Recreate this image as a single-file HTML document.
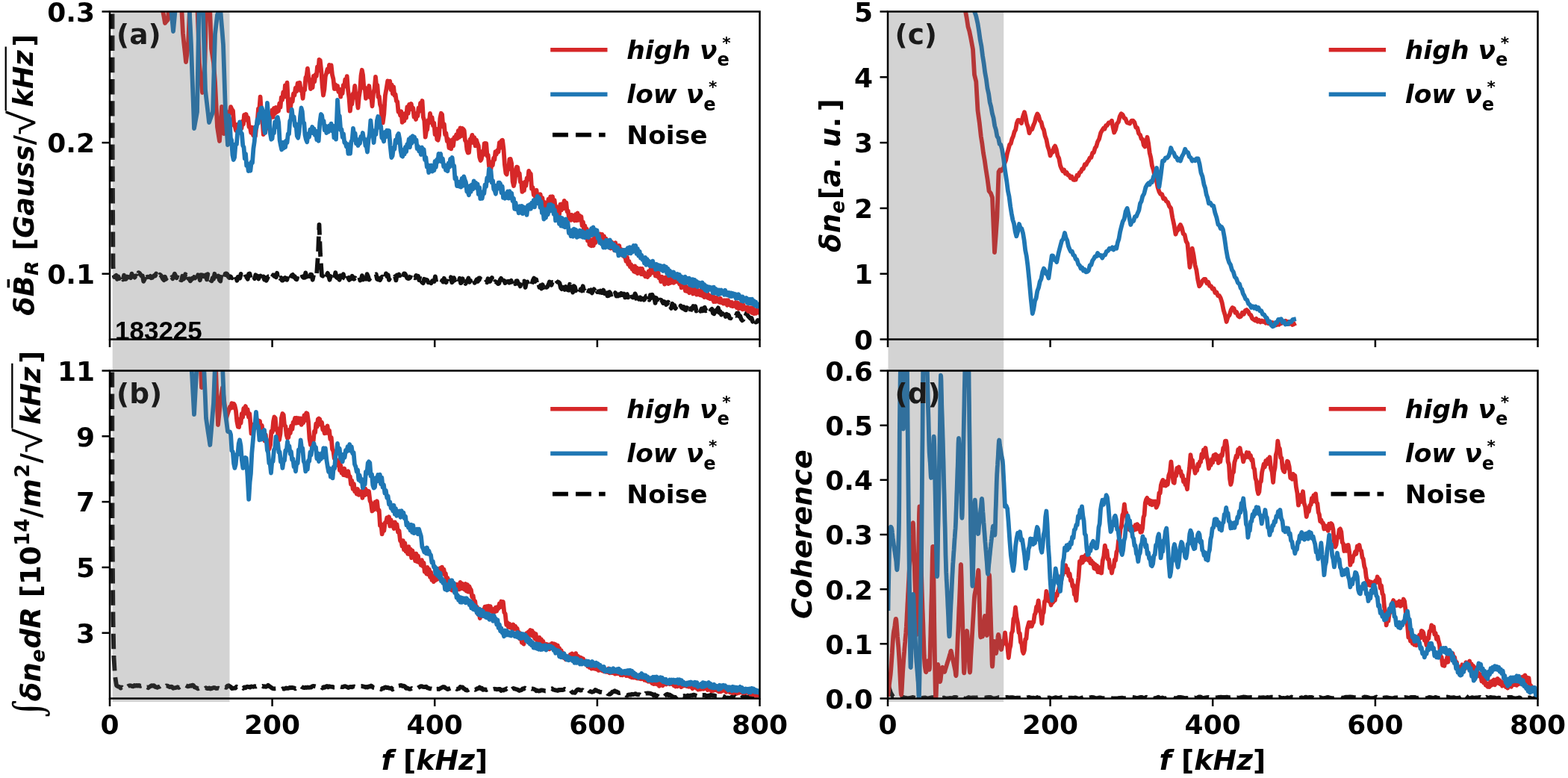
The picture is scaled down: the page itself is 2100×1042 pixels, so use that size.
<!DOCTYPE html>
<html><head><meta charset="utf-8"><title>Figure</title>
<style>html,body{margin:0;padding:0;background:#fff;} svg{display:block;}</style>
</head><body>
<svg width="2100" height="1042" viewBox="0 0 2100 1042">
<rect width="2100" height="1042" fill="#fff"/>
<defs><clipPath id="ca"><rect x="147" y="15.5" width="870.5" height="439.0"/></clipPath><clipPath id="cb"><rect x="147" y="496.5" width="870.5" height="439.0"/></clipPath><clipPath id="cc"><rect x="1189" y="15.5" width="870.5" height="439.0"/></clipPath><clipPath id="cd"><rect x="1189" y="496.5" width="870.5" height="439.0"/></clipPath></defs>
<path clip-path="url(#ca)" d="M150.5 -40.0 L150.7 200.0 L151.5 357.0 L153.0 371.0 L154.3 369.8 L155.6 368.8 L156.9 373.9 L158.2 370.2 L159.5 373.1 L160.8 369.8 L162.1 368.8 L163.4 371.8 L164.8 374.4 L166.1 368.7 L167.4 373.9 L168.7 373.8 L170.0 371.7 L171.3 371.7 L172.6 364.3 L173.9 369.7 L175.2 372.1 L176.5 366.6 L177.8 370.3 L179.1 370.4 L180.4 371.6 L181.7 369.4 L183.0 369.5 L184.3 372.2 L185.6 365.2 L186.9 365.8 L188.2 367.8 L189.6 369.6 L190.9 369.5 L192.2 376.8 L193.5 374.4 L194.8 367.1 L196.1 371.5 L197.4 370.7 L198.7 371.0 L200.0 371.0 L201.3 369.9 L202.6 372.2 L203.9 371.9 L205.2 370.3 L206.5 368.9 L207.8 369.5 L209.1 366.5 L210.4 369.8 L211.7 371.7 L213.0 369.9 L214.3 367.9 L215.7 369.0 L217.0 371.3 L218.3 373.8 L219.6 375.1 L220.9 370.7 L222.2 373.9 L223.5 372.4 L224.8 371.2 L226.1 371.0 L227.4 372.1 L228.7 373.8 L230.0 371.2 L231.3 373.3 L232.6 369.9 L233.9 366.7 L235.2 369.4 L236.5 372.3 L237.8 368.2 L239.1 371.6 L240.4 371.2 L241.7 374.9 L243.0 375.3 L244.3 369.7 L245.7 373.7 L247.0 372.6 L248.3 367.3 L249.6 368.5 L250.9 365.4 L252.2 373.0 L253.5 373.7 L254.8 376.3 L256.1 374.8 L257.4 372.7 L258.7 373.0 L260.0 371.0 L261.3 372.4 L262.6 368.5 L263.9 373.1 L265.2 368.3 L266.5 369.7 L267.8 375.2 L269.1 368.2 L270.4 368.4 L271.7 368.7 L273.0 376.2 L274.3 370.2 L275.7 368.3 L277.0 374.4 L278.3 367.1 L279.6 373.9 L280.9 373.3 L282.2 375.5 L283.5 376.3 L284.8 372.1 L286.1 373.5 L287.4 366.8 L288.7 374.5 L290.0 373.2 L291.3 375.1 L292.6 369.5 L293.9 375.1 L295.2 376.5 L296.5 367.0 L297.8 367.7 L299.1 369.6 L300.4 372.0 L301.7 366.8 L303.0 366.3 L304.3 367.1 L305.7 370.6 L307.0 372.0 L308.3 370.2 L309.6 371.7 L310.9 372.3 L312.2 371.0 L313.5 370.3 L314.8 366.9 L316.1 371.0 L317.4 375.7 L318.7 370.8 L320.0 371.0 L321.3 372.5 L322.6 366.9 L323.9 372.0 L325.2 373.0 L326.6 372.5 L327.9 370.9 L329.2 370.3 L330.5 371.6 L331.8 373.8 L333.1 367.0 L334.4 366.4 L335.7 372.5 L337.0 374.6 L338.4 371.3 L339.7 370.7 L341.0 373.1 L342.3 368.3 L343.6 369.3 L344.9 369.5 L346.2 373.4 L347.5 370.8 L348.9 369.5 L350.2 373.3 L351.5 375.8 L352.8 370.4 L354.1 374.5 L355.4 371.9 L356.7 375.7 L358.0 373.1 L359.3 370.3 L360.7 370.1 L362.0 368.6 L363.3 372.6 L364.6 371.0 L365.9 368.4 L367.2 369.8 L368.5 368.4 L369.8 371.3 L371.1 365.7 L372.5 374.8 L373.8 371.7 L375.1 373.0 L376.4 372.0 L377.7 375.6 L379.0 375.5 L380.3 373.0 L381.6 372.1 L383.0 374.2 L384.3 374.7 L385.6 369.8 L386.9 372.6 L388.2 374.9 L389.5 370.8 L390.8 368.7 L392.1 367.9 L393.4 371.0 L394.8 370.2 L396.1 373.8 L397.4 374.3 L398.7 369.3 L400.0 370.0 L401.3 367.8 L402.7 368.1 L404.0 366.9 L405.3 370.8 L406.7 371.9 L408.0 371.8 L409.3 365.4 L410.7 370.7 L412.0 366.9 L413.3 369.8 L414.7 373.2 L416.0 367.6 L417.3 367.9 L418.7 374.7 L420.0 368.4 L421.3 366.6 L422.7 367.7 L424.0 369.0 L426.0 340.0 L427.5 301.0 L429.0 340.0 L431.0 369.0 L432.3 369.7 L433.6 363.1 L434.9 366.0 L436.2 367.3 L437.5 368.1 L438.9 365.9 L440.2 370.1 L441.5 374.7 L442.8 370.0 L444.1 371.7 L445.4 368.2 L446.7 369.7 L448.0 372.0 L449.3 365.1 L450.6 371.3 L451.9 372.4 L453.3 366.6 L454.6 374.9 L455.9 369.1 L457.2 371.4 L458.5 370.6 L459.8 367.3 L461.1 372.5 L462.4 373.3 L463.7 374.3 L465.0 368.6 L466.4 372.5 L467.7 374.9 L469.0 373.8 L470.3 373.5 L471.6 369.8 L472.9 371.4 L474.2 373.8 L475.6 372.2 L476.9 374.3 L478.2 373.2 L479.6 372.7 L480.9 370.5 L482.3 375.5 L483.6 374.8 L484.9 369.1 L486.3 374.5 L487.6 372.2 L488.9 366.8 L490.3 373.8 L491.6 367.2 L493.0 370.2 L494.3 374.6 L495.6 373.0 L497.0 371.3 L498.3 371.3 L499.7 369.8 L501.0 368.9 L502.3 368.0 L503.7 367.3 L505.0 373.7 L506.3 374.4 L507.7 372.7 L509.0 375.1 L510.4 372.0 L511.7 370.7 L513.0 370.7 L514.4 374.5 L515.7 372.9 L517.0 366.4 L518.4 370.1 L519.7 368.4 L521.0 374.9 L522.4 372.1 L523.7 371.1 L525.0 370.1 L526.4 370.3 L527.7 372.7 L529.0 370.3 L530.4 375.4 L531.7 368.5 L533.0 369.5 L534.4 367.6 L535.7 369.0 L537.0 365.8 L538.4 371.2 L539.7 370.9 L541.1 366.4 L542.4 366.7 L543.8 369.0 L545.1 372.2 L546.5 373.1 L547.8 372.8 L549.2 371.8 L550.5 368.1 L551.9 370.4 L553.2 368.6 L554.6 371.7 L555.9 372.2 L557.3 368.9 L558.6 371.4 L560.0 369.8 L561.3 375.0 L562.7 368.6 L564.0 376.3 L565.4 378.2 L566.7 379.2 L568.1 373.7 L569.4 374.4 L570.8 374.6 L572.1 375.2 L573.5 378.3 L574.8 376.0 L576.2 373.3 L577.5 379.3 L578.9 376.3 L580.2 376.7 L581.6 377.0 L582.9 370.4 L584.3 377.7 L585.6 377.2 L587.0 377.0 L588.3 377.3 L589.6 379.1 L590.9 378.9 L592.2 375.6 L593.5 377.5 L594.8 372.7 L596.1 376.9 L597.4 378.2 L598.7 376.4 L600.0 376.6 L601.3 378.8 L602.6 377.6 L603.9 371.3 L605.2 378.2 L606.5 377.1 L607.8 372.1 L609.2 375.3 L610.5 374.3 L611.8 372.2 L613.1 375.0 L614.4 377.6 L615.7 372.7 L617.0 379.1 L618.3 378.4 L619.6 373.3 L620.9 379.8 L622.2 377.5 L623.5 380.0 L624.8 376.7 L626.1 375.8 L627.4 372.5 L628.7 377.9 L630.0 375.7 L631.4 380.3 L632.9 379.4 L634.3 375.5 L635.7 378.8 L637.1 377.1 L638.6 374.2 L640.0 377.0 L641.4 372.5 L642.7 372.5 L644.1 374.2 L645.4 374.7 L646.8 378.0 L648.1 379.9 L649.5 378.5 L650.8 377.4 L652.2 378.2 L653.5 373.3 L654.9 374.3 L656.2 377.0 L657.6 373.9 L658.9 372.0 L660.3 379.7 L661.6 379.5 L663.0 377.0 L664.4 377.6 L665.7 378.5 L667.1 380.1 L668.4 379.5 L669.8 374.7 L671.1 372.8 L672.5 375.3 L673.8 381.1 L675.2 375.7 L676.5 379.1 L677.9 377.3 L679.2 377.6 L680.6 376.8 L681.9 378.6 L683.3 376.7 L684.6 375.7 L686.0 381.0 L687.4 376.8 L688.7 377.3 L690.1 380.2 L691.4 376.4 L692.8 376.2 L694.1 380.2 L695.5 380.1 L696.8 383.4 L698.2 377.9 L699.5 381.0 L700.9 380.2 L702.2 376.5 L703.6 385.0 L704.9 378.6 L706.3 377.6 L707.6 381.5 L709.0 382.0 L710.6 379.3 L712.1 381.1 L713.7 375.6 L715.2 372.5 L716.8 377.0 L718.2 374.3 L719.6 381.5 L721.0 378.9 L722.4 384.8 L723.8 382.4 L725.2 386.5 L726.6 381.3 L728.0 385.0 L729.3 380.7 L730.6 380.0 L731.9 384.9 L733.2 383.9 L734.6 381.2 L735.9 377.5 L737.2 380.6 L738.5 381.7 L739.8 378.0 L741.2 378.0 L742.6 373.2 L743.9 374.5 L745.3 376.3 L746.7 377.9 L748.1 377.8 L749.5 379.2 L750.9 385.4 L752.2 387.1 L753.6 380.0 L755.0 385.0 L756.4 387.9 L757.7 384.0 L759.1 387.2 L760.4 388.4 L761.8 388.7 L763.1 380.8 L764.5 384.5 L765.8 388.4 L767.2 391.6 L768.5 383.1 L769.9 384.2 L771.2 389.4 L772.6 383.9 L773.9 387.3 L775.3 386.7 L776.6 388.4 L778.0 387.0 L779.4 389.5 L780.7 383.3 L782.1 389.0 L783.4 389.3 L784.8 391.2 L786.1 389.5 L787.5 393.2 L788.9 389.0 L790.2 390.1 L791.6 388.3 L792.9 392.4 L794.3 389.2 L795.6 387.3 L797.0 390.0 L798.4 386.0 L799.9 391.1 L801.3 390.2 L802.7 391.4 L804.2 389.5 L805.6 392.0 L806.9 392.1 L808.2 388.6 L809.6 393.0 L810.9 386.8 L812.2 392.0 L813.5 396.3 L814.8 396.1 L816.2 391.1 L817.5 392.6 L818.8 398.2 L820.1 395.4 L821.4 396.1 L822.7 395.6 L824.1 392.1 L825.4 396.5 L826.7 394.3 L828.0 396.4 L829.3 394.4 L830.7 395.5 L832.0 392.8 L833.3 395.6 L834.6 400.7 L835.9 393.5 L837.2 398.4 L838.6 394.7 L839.9 394.1 L841.2 398.3 L842.5 394.3 L843.8 392.6 L845.2 393.3 L846.5 397.7 L847.8 398.5 L849.2 398.2 L850.5 393.4 L851.9 396.2 L853.2 404.3 L854.6 398.3 L855.9 400.8 L857.3 398.3 L858.6 401.2 L860.0 400.0 L861.4 400.0 L862.7 401.6 L864.1 399.3 L865.5 396.3 L866.8 396.1 L868.2 395.1 L869.6 401.7 L870.9 395.2 L872.3 399.0 L873.6 394.7 L874.9 403.6 L876.2 398.0 L877.6 405.9 L878.9 399.2 L880.2 401.7 L881.5 398.0 L882.8 403.3 L884.1 401.5 L885.4 401.8 L886.8 403.2 L888.1 406.1 L889.4 404.0 L890.7 404.4 L892.1 408.0 L893.5 407.0 L894.9 404.5 L896.3 411.8 L897.7 410.4 L899.0 412.9 L900.4 406.8 L901.8 409.1 L903.2 409.0 L904.6 413.2 L906.0 410.6 L907.4 409.3 L908.8 411.9 L910.2 413.4 L911.6 409.4 L913.0 412.1 L914.4 413.0 L915.8 411.1 L917.2 414.7 L918.6 415.2 L920.0 412.1 L921.4 413.6 L922.8 413.9 L924.2 419.3 L925.6 412.9 L927.0 413.5 L928.4 410.1 L929.8 410.9 L931.2 410.2 L932.6 416.5 L934.0 414.1 L935.4 415.4 L936.8 413.0 L938.2 416.8 L939.6 413.5 L941.0 416.3 L942.4 412.8 L943.8 411.7 L945.1 416.3 L946.5 415.9 L947.9 417.2 L949.3 414.6 L950.7 417.9 L952.1 415.2 L953.5 413.9 L954.9 419.5 L956.3 420.3 L957.7 416.3 L959.1 422.5 L960.5 414.5 L961.9 412.4 L963.3 418.7 L964.7 417.3 L966.1 421.5 L967.5 419.8 L968.9 422.7 L970.3 417.2 L971.7 424.0 L973.1 420.7 L974.5 422.7 L975.8 422.1 L977.2 425.9 L978.6 426.2 L980.0 422.3 L981.4 421.0 L982.8 422.8 L984.2 422.5 L985.6 422.8 L987.0 419.6 L988.4 419.2 L989.8 423.5 L991.2 423.1 L992.6 427.4 L994.0 429.1 L995.4 428.1 L996.8 422.2 L998.2 424.0 L999.6 419.8 L1001.0 421.9 L1002.4 423.9 L1003.8 425.3 L1005.2 426.8 L1006.6 426.1 L1008.0 430.7 L1009.4 425.6 L1010.8 427.5 L1012.2 431.6 L1013.6 431.0 L1015.0 429.0 L1017.5 430.0" fill="none" stroke="#111111" stroke-width="5.8" stroke-linejoin="round" stroke-linecap="butt" stroke-dasharray="20.4 8.8"/>
<path clip-path="url(#ca)" d="M205.0 -40.0 L206.2 -35.2 L207.4 -30.4 L208.6 -25.6 L209.8 -20.8 L211.0 -16.0 L212.2 -11.2 L213.4 -6.4 L214.6 -1.6 L215.8 3.2 L217.0 8.0 L218.3 15.7 L219.7 23.3 L221.0 31.0 L222.3 29.3 L223.7 27.7 L225.0 26.0 L226.3 7.3 L227.7 -11.3 L229.0 -30.0 L230.2 -30.0 L231.4 -30.0 L232.6 -30.0 L233.8 -30.0 L235.0 -30.0 L236.2 -30.0 L237.4 -30.0 L238.6 -30.0 L239.8 -30.0 L241.0 -30.0 L242.3 -5.0 L243.7 20.0 L245.0 45.0 L246.3 57.7 L247.7 70.3 L249.0 83.0 L250.5 71.5 L252.0 60.0 L253.3 30.0 L254.7 0.0 L256.0 -30.0 L257.4 -30.0 L258.8 -30.0 L260.2 -30.0 L261.6 -30.0 L263.0 -30.0 L264.3 8.3 L265.7 46.7 L267.0 85.0 L268.3 98.0 L269.7 111.0 L271.0 124.0 L272.5 112.0 L274.0 100.0 L275.5 40.0 L277.0 -20.0 L278.5 -20.0 L280.0 -20.0 L281.5 22.5 L283.0 65.0 L284.5 74.5 L286.0 84.0 L288.0 110.0 L289.5 140.0 L291.0 170.0 L292.5 179.5 L294.0 189.0 L295.5 166.0 L297.0 143.0 L298.5 161.0 L300.0 179.0 L301.5 169.5 L303.0 160.0 L304.5 155.0 L306.0 150.0 L307.5 152.2 L309.1 143.1 L310.6 146.6 L312.0 148.4 L313.4 167.9 L314.8 169.8 L316.0 174.9 L317.3 166.9 L318.5 174.4 L319.8 170.1 L321.0 174.0 L322.2 165.4 L323.5 171.8 L324.7 162.3 L325.9 166.4 L327.1 153.9 L328.4 161.0 L329.6 153.0 L330.9 160.9 L332.2 157.5 L333.5 169.9 L334.8 169.8 L336.2 177.8 L337.7 170.6 L339.1 181.2 L340.6 175.8 L342.0 182.5 L343.3 169.9 L344.6 163.5 L346.0 145.7 L347.3 146.7 L348.6 129.7 L350.0 151.1 L351.4 159.5 L352.8 180.0 L354.1 173.9 L355.4 177.5 L356.7 163.5 L358.1 172.0 L359.4 158.7 L360.7 165.6 L362.0 153.4 L363.3 153.0 L364.5 147.5 L365.7 156.9 L366.9 144.8 L368.2 152.2 L369.4 143.8 L370.6 150.2 L371.8 144.5 L373.0 148.7 L374.3 138.3 L375.5 143.7 L376.8 130.4 L378.0 134.0 L379.3 123.4 L380.6 130.0 L381.9 114.4 L383.2 119.7 L384.5 110.7 L386.6 148.7 L387.9 139.6 L389.2 143.3 L390.4 132.6 L391.7 136.0 L393.0 125.5 L394.4 127.6 L395.8 117.7 L397.2 122.3 L398.6 111.5 L400.0 116.7 L401.4 110.7 L402.8 121.3 L404.2 120.4 L405.6 131.8 L406.9 119.0 L408.1 120.5 L409.4 103.7 L410.6 101.8 L411.9 91.7 L413.3 103.8 L414.6 107.1 L416.0 119.0 L417.3 110.6 L418.6 117.3 L419.9 102.0 L421.2 109.4 L422.5 100.0 L423.8 101.9 L425.0 89.3 L426.3 94.4 L427.5 79.8 L428.8 81.0 L430.2 94.2 L431.6 114.1 L433.0 127.6 L434.4 119.7 L435.8 102.5 L437.2 98.0 L438.5 92.8 L439.8 96.2 L441.0 86.8 L442.3 93.0 L443.6 87.4 L445.0 100.2 L446.4 105.8 L447.8 119.0 L449.2 113.3 L450.6 119.0 L452.0 115.0 L453.4 123.1 L454.8 119.6 L456.2 129.7 L457.4 121.8 L458.6 125.3 L459.8 113.8 L461.1 116.0 L462.3 106.3 L463.5 110.0 L464.7 102.2 L466.1 120.5 L467.5 130.8 L468.9 148.7 L470.2 135.9 L471.4 139.5 L472.7 125.6 L473.9 126.4 L475.2 115.0 L476.6 130.5 L478.1 132.6 L479.5 144.5 L480.8 129.8 L482.1 121.8 L483.5 101.3 L484.8 93.8 L486.1 100.6 L487.4 118.0 L488.7 117.3 L490.0 131.8 L491.4 121.8 L492.9 123.6 L494.3 115.0 L495.7 130.5 L497.1 127.6 L498.5 142.3 L500.0 124.9 L501.5 119.1 L503.0 103.0 L504.2 115.3 L505.4 114.1 L506.6 129.8 L507.8 129.2 L509.0 140.0 L510.2 143.3 L511.5 158.6 L512.7 164.5 L514.3 152.6 L515.9 127.8 L517.5 119.0 L519.2 108.4 L521.0 109.6 L522.2 108.7 L523.5 120.3 L524.7 113.5 L525.9 125.5 L527.1 116.3 L528.4 127.9 L529.6 126.5 L530.9 135.4 L532.2 136.1 L533.5 149.8 L534.8 149.7 L536.1 154.4 L537.4 149.2 L538.7 163.8 L540.0 160.0 L541.3 161.9 L542.7 152.0 L544.0 158.0 L545.4 143.1 L546.7 152.0 L548.0 140.0 L549.4 145.3 L550.7 139.0 L552.0 146.7 L553.2 144.5 L554.5 156.6 L555.7 151.9 L557.0 160.0 L558.2 153.6 L559.4 155.3 L560.6 144.3 L561.9 149.0 L563.1 137.9 L564.3 142.0 L565.5 135.0 L566.9 157.1 L568.3 161.3 L569.7 183.5 L571.0 175.1 L572.2 173.7 L573.5 161.0 L574.7 164.6 L576.0 151.8 L577.3 161.8 L578.6 157.3 L580.0 168.2 L581.3 164.7 L582.6 180.0 L584.0 172.5 L585.3 186.7 L586.6 187.7 L588.0 181.7 L589.4 158.7 L590.8 151.8 L592.1 153.4 L593.4 169.8 L594.8 166.1 L596.1 180.2 L597.4 178.3 L598.8 189.2 L600.1 186.1 L601.4 198.0 L602.8 193.0 L604.2 199.3 L605.6 187.1 L607.0 195.5 L608.4 184.0 L609.8 185.6 L611.1 180.5 L612.4 185.7 L613.8 175.0 L615.1 184.0 L616.4 171.4 L617.8 182.1 L619.1 172.0 L620.4 173.0 L621.7 174.9 L622.9 188.1 L624.2 189.8 L625.4 200.6 L626.7 204.6 L628.1 204.2 L629.6 186.4 L631.0 185.6 L632.4 180.9 L633.8 191.2 L635.2 184.1 L636.6 195.4 L638.0 187.3 L639.4 192.0 L640.8 195.1 L642.2 210.3 L643.6 215.0 L644.9 212.7 L646.2 202.6 L647.4 207.2 L648.7 192.1 L650.0 192.0 L651.2 192.2 L652.5 208.7 L653.7 207.7 L655.0 222.8 L656.2 223.6 L657.4 226.9 L658.6 216.8 L659.8 221.4 L661.1 211.6 L662.3 214.0 L663.5 203.1 L664.7 206.7 L666.1 201.4 L667.5 203.4 L668.9 190.8 L670.2 197.9 L671.6 188.4 L673.0 187.7 L674.5 199.8 L675.9 220.3 L677.4 232.0 L678.7 233.5 L679.9 222.0 L681.2 226.7 L682.4 213.1 L683.7 213.0 L685.1 218.6 L686.6 243.1 L688.0 249.0 L689.3 243.8 L690.7 229.0 L692.0 223.6 L693.2 224.0 L694.5 235.0 L695.7 232.1 L696.9 243.7 L698.1 244.0 L699.4 256.9 L700.6 255.0 L701.9 255.0 L703.1 243.7 L704.4 249.0 L705.7 238.3 L707.0 240.6 L708.2 228.9 L709.5 231.7 L710.8 232.7 L712.1 252.7 L713.5 251.2 L714.8 261.0 L716.0 258.1 L717.3 265.8 L718.5 254.6 L719.8 265.4 L721.0 261.0 L722.3 268.2 L723.7 260.3 L725.0 270.5 L726.4 265.1 L727.7 275.0 L729.0 270.7 L730.4 278.2 L731.7 278.0 L733.1 278.8 L734.5 266.7 L735.9 274.6 L737.2 263.3 L738.6 270.6 L740.0 263.3 L741.3 273.8 L742.6 268.1 L743.9 279.4 L745.2 276.8 L746.5 284.5 L747.8 279.5 L749.1 287.1 L750.4 273.7 L751.8 281.5 L753.1 273.1 L754.4 279.4 L755.7 268.8 L757.0 271.8 L758.3 271.4 L759.5 283.3 L760.8 282.5 L762.0 291.8 L763.3 293.0 L764.6 294.8 L765.8 287.8 L767.1 293.9 L768.4 289.1 L769.6 295.5 L770.9 287.3 L772.2 295.4 L773.5 285.5 L774.7 294.8 L776.0 288.7 L777.2 294.0 L778.4 290.1 L779.6 302.2 L780.9 297.4 L782.1 308.2 L783.3 302.4 L784.5 307.7 L785.8 306.7 L787.0 322.2 L788.3 315.0 L789.5 327.8 L790.8 328.8 L792.1 329.2 L793.4 321.1 L794.8 329.0 L796.1 318.4 L797.4 325.1 L798.8 315.3 L800.1 321.5 L801.4 314.0 L802.7 317.2 L803.9 313.4 L805.2 323.3 L806.4 314.0 L807.7 325.9 L809.0 316.4 L810.2 327.7 L811.5 319.6 L812.7 327.9 L814.0 326.7 L815.3 330.7 L816.5 325.2 L817.8 332.6 L819.1 324.0 L820.4 331.6 L821.6 327.3 L822.9 335.3 L824.2 325.2 L825.4 334.5 L826.7 331.0 L828.0 336.5 L829.3 329.0 L830.6 339.2 L832.0 334.0 L833.3 341.9 L834.6 337.7 L835.9 343.8 L837.2 343.6 L838.5 349.9 L839.9 344.5 L841.2 353.8 L842.5 350.1 L843.8 357.2 L845.1 354.1 L846.5 360.5 L847.8 360.5 L849.0 363.5 L850.3 356.4 L851.5 364.7 L852.7 358.7 L854.0 366.2 L855.2 360.1 L856.4 364.6 L857.7 359.7 L858.9 367.2 L860.1 359.9 L861.4 367.6 L862.6 364.7 L864.3 370.3 L866.0 367.6 L867.3 371.0 L868.7 363.4 L870.0 368.4 L871.4 360.7 L872.7 365.6 L874.1 359.2 L875.4 361.4 L876.6 359.3 L877.8 369.3 L879.1 361.1 L880.3 370.1 L881.5 365.2 L882.7 372.4 L883.9 370.4 L885.2 377.1 L886.4 370.6 L887.6 376.8 L888.8 374.5 L890.1 380.6 L891.3 371.5 L892.5 378.6 L893.7 371.8 L895.0 380.1 L896.2 372.5 L897.4 379.1 L898.6 370.9 L899.9 378.3 L901.1 370.1 L902.3 378.9 L903.5 369.3 L904.8 377.4 L906.0 373.7 L907.3 377.3 L908.7 374.5 L910.0 380.5 L911.3 376.5 L912.6 385.4 L914.0 381.3 L915.3 384.5 L916.6 381.4 L917.9 389.6 L919.2 383.8 L920.6 390.2 L921.9 385.7 L923.2 392.2 L924.5 389.0 L925.7 390.7 L927.0 384.7 L928.2 393.5 L929.4 386.2 L930.6 392.1 L931.9 385.6 L933.1 394.6 L934.3 388.4 L935.6 394.3 L936.8 390.6 L938.1 395.3 L939.3 388.4 L940.6 396.1 L941.9 390.4 L943.2 398.1 L944.5 390.0 L945.7 397.7 L947.0 391.8 L948.3 399.1 L949.5 395.2 L950.8 400.0 L952.1 398.3 L953.4 400.5 L954.7 395.2 L956.0 404.1 L957.2 398.6 L958.5 404.0 L959.8 398.8 L961.1 403.5 L962.4 400.2 L963.6 404.9 L964.9 399.8 L966.2 405.2 L967.5 404.4 L968.8 406.5 L970.0 402.3 L971.3 406.5 L972.6 402.3 L973.9 408.8 L975.1 402.2 L976.4 408.1 L977.7 404.4 L979.0 409.6 L980.2 404.9 L981.5 410.2 L982.8 407.5 L984.1 409.8 L985.4 405.0 L986.6 412.1 L987.9 405.5 L989.2 413.4 L990.5 407.0 L991.8 412.7 L993.1 406.9 L994.4 414.3 L995.6 408.4 L996.9 413.9 L998.2 412.0 L999.5 414.5 L1000.8 411.5 L1002.1 416.8 L1003.4 412.4 L1004.7 417.6 L1006.0 412.2 L1007.2 419.1 L1008.5 412.6 L1009.8 420.1 L1011.1 415.2 L1012.4 419.7 L1013.7 415.0 L1015.0 418.2 L1016.2 416.6 L1017.5 419.0" fill="none" stroke="#d62728" stroke-width="5.8" stroke-linejoin="round" stroke-linecap="square"/>
<path clip-path="url(#ca)" d="M222.0 -40.0 L223.4 -30.0 L224.8 -20.0 L226.2 -10.0 L227.6 0.0 L229.0 10.0 L230.5 26.0 L232.0 42.0 L233.5 26.0 L235.0 10.0 L236.2 -2.5 L237.5 -15.0 L238.8 -27.5 L240.0 -40.0 L241.2 -40.0 L242.4 -40.0 L243.7 -40.0 L244.9 -40.0 L246.1 -40.0 L247.3 -40.0 L248.6 -40.0 L249.8 -40.0 L251.0 -40.0 L252.2 -15.0 L253.5 10.0 L254.8 35.0 L256.0 60.0 L257.3 97.3 L258.7 134.7 L260.0 172.0 L261.3 164.7 L262.7 157.3 L264.0 150.0 L265.5 65.0 L267.0 -20.0 L268.3 -20.0 L269.7 -20.0 L271.0 -20.0 L272.3 26.7 L273.7 73.3 L275.0 120.0 L276.2 131.0 L277.5 142.0 L278.8 153.0 L280.0 164.0 L281.2 160.5 L282.5 157.0 L283.8 153.5 L285.0 150.0 L286.5 98.0 L288.0 46.0 L289.5 33.0 L291.0 20.0 L292.3 16.7 L293.7 13.3 L295.0 10.0 L296.3 26.7 L297.7 43.3 L299.0 60.0 L300.5 105.0 L302.0 150.0 L303.5 172.0 L305.0 194.0 L306.3 155.0 L307.6 160.4 L308.9 184.9 L310.1 187.7 L311.4 207.6 L312.7 214.0 L314.1 210.8 L315.5 193.1 L316.9 193.1 L318.2 176.2 L319.6 178.1 L321.0 163.5 L322.4 178.2 L323.9 178.8 L325.3 195.0 L326.5 197.1 L327.8 212.3 L329.0 206.0 L330.2 221.7 L331.5 218.8 L332.7 229.0 L334.0 220.1 L335.4 228.7 L336.7 216.6 L338.0 218.0 L339.4 199.0 L340.8 189.4 L342.2 170.0 L343.4 171.5 L344.6 160.0 L345.8 165.2 L347.1 152.3 L348.3 157.9 L349.5 144.8 L350.7 144.5 L352.1 149.4 L353.6 172.0 L355.0 178.0 L356.5 162.2 L358.0 138.0 L359.3 154.5 L360.6 157.4 L362.0 179.2 L363.3 186.7 L364.5 185.8 L365.7 175.3 L366.9 178.3 L368.2 163.5 L369.4 170.3 L370.6 158.9 L371.8 157.0 L373.2 164.0 L374.6 187.6 L376.0 195.0 L377.2 200.5 L378.4 191.0 L379.6 198.6 L380.9 190.5 L382.1 197.1 L383.3 188.4 L384.5 191.0 L385.8 179.1 L387.0 179.2 L388.3 161.9 L389.5 159.8 L390.8 146.6 L392.2 158.8 L393.6 156.2 L395.0 168.5 L396.4 166.0 L397.8 182.1 L399.2 184.6 L400.6 176.4 L402.1 155.8 L403.5 144.5 L404.8 149.3 L406.0 164.1 L407.3 164.8 L408.5 180.6 L409.8 186.7 L411.2 190.2 L412.6 179.1 L414.0 183.6 L415.4 173.5 L416.8 175.9 L418.2 170.0 L419.4 178.3 L420.6 172.7 L421.8 180.8 L423.1 175.6 L424.3 187.1 L425.5 184.0 L426.7 188.8 L428.3 164.4 L429.9 153.0 L431.1 154.5 L432.3 163.4 L433.5 162.0 L434.8 174.4 L436.0 168.5 L437.2 178.0 L438.5 173.1 L439.8 176.5 L441.0 168.5 L442.3 172.1 L443.6 165.6 L444.9 175.3 L446.2 168.7 L447.4 184.3 L448.7 177.1 L450.0 186.7 L452.0 134.0 L453.4 153.2 L454.8 155.5 L456.2 174.0 L457.5 173.3 L458.8 183.8 L460.0 179.2 L461.3 191.0 L462.6 191.0 L463.9 196.4 L465.2 192.9 L466.4 205.8 L467.7 200.2 L469.0 205.7 L470.3 189.9 L471.7 187.0 L473.0 172.0 L474.3 180.9 L475.6 178.6 L476.9 192.1 L478.2 187.3 L479.5 195.0 L480.8 186.9 L482.0 192.1 L483.3 182.8 L484.5 185.9 L485.8 178.0 L487.0 185.7 L488.3 186.0 L489.5 195.5 L490.8 195.8 L492.0 203.6 L493.5 187.1 L494.9 180.2 L496.4 161.3 L497.8 175.5 L499.2 174.7 L500.6 191.0 L502.0 176.0 L503.5 180.0 L504.9 161.7 L506.3 156.0 L507.6 157.9 L508.9 170.9 L510.1 169.1 L511.4 184.5 L512.7 185.6 L514.1 189.4 L515.5 176.9 L516.9 183.4 L518.2 174.7 L519.6 181.1 L521.0 175.0 L522.6 195.0 L524.3 211.0 L525.7 208.5 L527.0 198.0 L528.4 199.7 L529.7 187.5 L531.1 191.2 L532.4 181.2 L533.8 179.0 L535.2 186.2 L536.6 201.9 L538.0 208.8 L539.2 209.6 L540.4 200.3 L541.6 206.5 L542.9 197.0 L544.1 203.1 L545.3 193.2 L546.5 194.0 L547.7 186.4 L548.9 197.3 L550.1 184.2 L551.4 191.9 L552.6 182.2 L553.8 189.6 L555.0 183.5 L556.2 189.5 L557.5 187.2 L558.7 199.2 L560.0 195.9 L561.2 202.5 L562.5 199.6 L563.8 207.1 L565.0 197.4 L566.3 204.8 L567.6 200.0 L569.0 214.0 L570.4 211.0 L571.8 223.6 L573.0 220.9 L574.2 231.2 L575.4 221.8 L576.6 228.0 L577.8 221.5 L579.0 229.6 L580.2 227.8 L581.4 228.1 L582.6 216.0 L583.8 223.8 L585.1 213.7 L586.3 216.7 L587.5 205.9 L588.7 206.7 L590.1 206.1 L591.5 216.6 L592.9 212.6 L594.2 223.1 L595.6 221.0 L597.0 227.8 L598.2 221.8 L599.5 229.2 L600.7 218.3 L601.9 223.6 L603.1 213.0 L604.4 218.0 L605.6 211.0 L606.9 222.3 L608.2 222.1 L609.4 239.2 L610.7 237.7 L612.0 249.0 L613.3 245.4 L614.6 249.4 L615.9 243.5 L617.2 250.6 L618.6 238.8 L619.9 248.9 L621.2 236.5 L622.5 240.5 L623.9 244.1 L625.3 256.7 L626.7 257.4 L628.0 261.3 L629.3 249.0 L630.6 256.9 L632.0 247.5 L633.3 253.5 L634.6 242.3 L635.9 249.5 L637.2 244.7 L638.4 252.1 L639.6 246.6 L640.8 260.0 L642.1 251.1 L643.3 266.0 L644.5 257.0 L645.7 265.8 L647.0 257.7 L648.3 259.3 L649.6 247.4 L651.0 249.9 L652.3 238.2 L653.6 242.3 L654.9 226.4 L656.2 227.8 L657.5 228.7 L658.8 244.5 L660.0 241.9 L661.3 253.4 L662.6 255.3 L663.9 259.7 L665.2 248.4 L666.4 252.8 L667.7 244.6 L669.0 244.7 L670.2 246.2 L671.5 258.3 L672.7 249.7 L674.0 264.8 L675.2 263.7 L676.4 265.6 L677.6 259.2 L678.8 264.9 L680.1 256.3 L681.3 265.7 L682.5 256.2 L683.7 259.5 L685.1 258.7 L686.5 269.0 L687.9 265.6 L689.2 279.8 L690.6 271.7 L692.0 280.6 L693.3 278.5 L694.7 285.4 L696.0 276.2 L697.4 284.8 L698.7 275.9 L700.0 286.2 L701.4 277.3 L702.7 282.7 L704.1 278.2 L705.5 287.8 L707.0 275.2 L708.4 280.0 L709.7 274.0 L710.9 279.7 L712.2 271.7 L713.4 276.3 L714.7 268.1 L716.0 277.3 L717.2 267.1 L718.5 272.7 L719.7 262.8 L721.0 265.5 L722.2 265.3 L723.5 277.9 L724.7 270.1 L725.9 285.1 L727.1 279.5 L728.4 293.5 L729.6 290.8 L731.0 291.5 L732.4 279.9 L733.8 287.3 L735.2 274.2 L736.6 282.6 L738.0 274.0 L739.2 280.0 L740.4 275.2 L741.6 286.8 L742.9 281.0 L744.1 295.4 L745.3 287.2 L746.5 295.0 L747.8 293.4 L749.0 299.9 L750.2 291.0 L751.5 302.6 L752.8 292.1 L754.0 303.0 L755.2 295.8 L756.5 304.4 L757.8 293.4 L759.0 299.0 L760.4 298.0 L761.9 312.2 L763.3 309.8 L764.6 316.2 L766.0 308.5 L767.3 316.9 L768.6 306.6 L770.0 315.2 L771.3 307.8 L772.7 317.9 L774.0 314.0 L775.3 316.7 L776.6 308.6 L777.9 316.5 L779.2 309.5 L780.6 317.7 L781.9 311.0 L783.2 318.3 L784.5 314.0 L785.8 317.2 L787.0 310.0 L788.2 318.1 L789.5 309.3 L790.8 312.7 L792.0 306.3 L793.2 315.0 L794.5 304.4 L795.8 313.3 L797.0 307.7 L798.2 314.3 L799.5 308.5 L800.7 319.0 L801.9 315.6 L803.1 325.2 L804.4 322.1 L805.6 326.7 L806.9 324.6 L808.1 331.6 L809.4 324.2 L810.6 331.6 L811.9 321.7 L813.2 330.1 L814.4 322.2 L815.7 331.7 L816.9 321.4 L818.2 326.7 L819.5 325.7 L820.8 331.6 L822.0 327.2 L823.3 335.4 L824.6 330.1 L825.9 336.1 L827.2 331.6 L828.4 342.4 L829.7 335.0 L831.0 339.4 L832.4 335.2 L833.8 341.9 L835.2 334.9 L836.6 343.0 L838.0 334.7 L839.4 337.2 L840.7 332.2 L842.0 339.2 L843.4 331.1 L844.7 339.3 L846.0 331.4 L847.4 337.4 L848.7 329.0 L850.0 331.0 L851.3 329.0 L852.6 339.9 L853.9 333.2 L855.2 342.5 L856.6 336.7 L857.9 345.6 L859.2 341.7 L860.5 347.8 L861.7 345.3 L863.0 352.6 L864.2 344.9 L865.5 354.9 L866.7 347.0 L868.0 354.3 L869.2 349.7 L870.4 356.1 L871.7 351.0 L872.9 356.6 L874.2 349.6 L875.4 355.3 L876.7 353.8 L878.0 360.9 L879.2 353.9 L880.5 360.2 L881.8 355.1 L883.0 360.2 L884.3 355.7 L885.6 361.5 L886.9 356.8 L888.2 363.0 L889.4 356.2 L890.7 361.4 L892.0 357.4 L893.2 366.0 L894.5 359.9 L895.8 369.2 L897.1 362.6 L898.4 367.8 L899.6 364.4 L900.9 369.7 L902.2 364.5 L903.5 371.8 L904.7 367.1 L906.0 370.6 L907.3 366.9 L908.6 373.9 L909.9 367.9 L911.1 376.3 L912.4 370.4 L913.7 377.9 L915.0 371.6 L916.3 379.1 L917.5 370.7 L918.8 378.9 L920.1 372.5 L921.4 376.8 L922.7 372.6 L924.0 381.5 L925.2 374.0 L926.5 382.6 L927.8 374.2 L929.1 383.0 L930.4 374.9 L931.7 382.2 L932.9 376.8 L934.2 384.2 L935.5 378.4 L936.8 381.4 L938.1 379.3 L939.3 384.4 L940.6 378.5 L941.9 385.9 L943.2 381.1 L944.5 388.6 L945.7 383.0 L947.0 389.9 L948.3 384.2 L949.5 387.9 L950.8 384.6 L952.1 387.5 L953.4 385.4 L954.7 392.4 L956.0 384.6 L957.2 392.7 L958.5 386.8 L959.8 392.8 L961.1 388.2 L962.4 394.4 L963.6 388.5 L964.9 393.5 L966.2 388.5 L967.5 392.1 L968.8 390.6 L970.0 394.8 L971.3 388.8 L972.6 394.7 L973.9 391.7 L975.1 395.5 L976.4 391.9 L977.7 396.7 L979.0 392.4 L980.2 396.9 L981.5 393.0 L982.8 395.2 L984.1 393.8 L985.4 399.2 L986.6 394.5 L987.9 399.5 L989.2 394.3 L990.5 399.6 L991.8 397.1 L993.1 402.9 L994.4 397.4 L995.6 403.7 L996.9 399.2 L998.2 401.3 L999.5 399.1 L1000.8 405.8 L1002.1 400.6 L1003.4 406.5 L1004.7 400.8 L1006.0 406.4 L1007.2 400.7 L1008.5 407.3 L1009.8 403.1 L1011.1 408.9 L1012.4 404.5 L1013.7 410.4 L1015.0 407.5 L1016.2 410.5 L1017.5 408.0" fill="none" stroke="#1f77b4" stroke-width="5.8" stroke-linejoin="round" stroke-linecap="square"/>
<path clip-path="url(#cb)" d="M150.2 440.0 L150.5 700.0 L151.5 830.0 L152.5 880.0 L154.0 905.0 L156.0 918.0 L158.0 919.4 L160.0 920.0 L161.5 921.5 L163.1 920.4 L164.6 921.8 L166.2 921.1 L167.7 921.5 L169.2 921.4 L170.8 919.7 L172.3 918.6 L173.8 918.2 L175.4 918.3 L176.9 919.1 L178.5 919.3 L180.0 917.9 L181.5 918.6 L183.1 917.8 L184.6 918.7 L186.2 917.9 L187.7 918.9 L189.2 918.4 L190.8 917.9 L192.3 917.8 L193.8 918.6 L195.4 920.6 L196.9 920.4 L198.5 921.2 L200.0 920.0 L201.5 919.2 L203.0 918.1 L204.5 918.6 L206.1 918.1 L207.6 919.7 L209.1 920.3 L210.6 920.8 L212.1 919.8 L213.6 919.8 L215.2 918.5 L216.7 918.6 L218.2 918.8 L219.7 919.3 L221.2 919.5 L222.7 918.3 L224.2 918.5 L225.8 919.4 L227.3 920.1 L228.8 919.7 L230.3 919.9 L231.8 921.8 L233.3 921.3 L234.8 921.1 L236.4 920.7 L237.9 920.2 L239.4 921.0 L240.9 919.8 L242.4 920.0 L243.9 919.0 L245.5 918.4 L247.0 918.0 L248.5 917.8 L250.0 918.6 L251.5 919.3 L253.0 919.1 L254.5 918.3 L256.1 918.8 L257.6 917.6 L259.1 918.1 L260.6 920.3 L262.1 920.9 L263.6 921.5 L265.2 922.4 L266.7 921.7 L268.2 920.9 L269.7 920.9 L271.2 921.2 L272.7 921.3 L274.2 922.3 L275.8 921.2 L277.3 922.2 L278.8 922.2 L280.3 921.5 L281.8 922.5 L283.3 922.1 L284.8 921.5 L286.4 921.0 L287.9 921.2 L289.4 922.0 L290.9 921.8 L292.4 921.6 L293.9 922.1 L295.5 922.2 L297.0 921.5 L298.5 921.8 L300.0 920.0 L301.5 920.5 L303.0 920.8 L304.5 918.7 L306.1 918.1 L307.6 919.3 L309.1 919.9 L310.6 922.0 L312.1 921.9 L313.6 921.7 L315.2 921.5 L316.7 919.8 L318.2 920.4 L319.7 920.5 L321.2 920.6 L322.7 922.0 L324.2 920.7 L325.8 921.9 L327.3 920.4 L328.8 921.2 L330.3 919.9 L331.8 919.7 L333.3 920.1 L334.8 920.6 L336.4 919.4 L337.9 919.7 L339.4 919.8 L340.9 919.1 L342.4 919.6 L343.9 918.8 L345.5 919.6 L347.0 920.3 L348.5 919.6 L350.0 919.3 L351.5 918.8 L353.0 919.7 L354.5 919.2 L356.1 919.8 L357.6 919.1 L359.1 917.8 L360.6 919.0 L362.1 919.9 L363.6 921.1 L365.2 922.2 L366.7 922.3 L368.2 922.3 L369.7 922.2 L371.2 922.1 L372.7 921.5 L374.2 921.6 L375.8 922.9 L377.3 923.0 L378.8 922.2 L380.3 922.7 L381.8 922.1 L383.3 921.5 L384.8 921.8 L386.4 921.8 L387.9 920.8 L389.4 921.3 L390.9 920.8 L392.4 921.2 L393.9 921.3 L395.5 922.4 L397.0 921.6 L398.5 921.5 L400.0 920.5 L401.5 918.5 L403.0 919.0 L404.5 920.2 L406.1 920.9 L407.6 921.2 L409.1 920.7 L410.6 921.0 L412.1 920.5 L413.6 920.8 L415.2 920.7 L416.7 920.6 L418.2 919.2 L419.7 918.8 L421.2 919.0 L422.7 919.4 L424.2 918.4 L425.8 918.6 L427.3 918.7 L428.8 919.5 L430.3 920.1 L431.8 921.5 L433.3 920.2 L434.8 920.9 L436.4 919.4 L437.9 918.9 L439.4 920.3 L440.9 919.2 L442.4 919.7 L443.9 919.9 L445.5 919.9 L447.0 920.7 L448.5 920.7 L450.0 920.8 L451.5 920.4 L453.0 921.1 L454.5 919.7 L456.1 919.8 L457.6 920.2 L459.1 920.2 L460.6 919.4 L462.1 919.2 L463.6 919.5 L465.2 920.3 L466.7 921.1 L468.2 920.2 L469.7 919.9 L471.2 920.3 L472.7 919.7 L474.2 919.5 L475.8 920.0 L477.3 919.0 L478.8 919.8 L480.3 919.4 L481.8 919.4 L483.3 919.0 L484.8 919.0 L486.4 919.5 L487.9 919.6 L489.4 920.5 L490.9 919.8 L492.4 920.6 L493.9 919.3 L495.5 919.7 L497.0 918.4 L498.5 919.4 L500.0 921.0 L501.5 921.3 L503.0 921.1 L504.5 922.3 L506.0 921.7 L507.5 922.4 L509.1 922.6 L510.6 923.2 L512.1 922.0 L513.6 921.9 L515.1 920.7 L516.6 920.3 L518.1 921.1 L519.6 921.0 L521.1 921.7 L522.6 921.8 L524.2 921.5 L525.7 923.4 L527.2 922.4 L528.7 922.4 L530.2 922.5 L531.7 920.7 L533.2 918.7 L534.7 918.4 L536.2 918.0 L537.7 918.0 L539.2 919.0 L540.8 918.6 L542.3 919.3 L543.8 921.9 L545.3 921.5 L546.8 922.2 L548.3 922.9 L549.8 922.9 L551.3 921.9 L552.8 922.9 L554.3 922.4 L555.8 922.1 L557.4 922.3 L558.9 921.9 L560.4 920.9 L561.9 920.2 L563.4 919.1 L564.9 919.1 L566.4 919.9 L567.9 920.1 L569.4 920.0 L570.9 919.6 L572.5 921.5 L574.0 921.7 L575.5 922.4 L577.0 922.3 L578.5 922.7 L580.0 920.7 L581.5 922.6 L583.0 923.3 L584.6 922.8 L586.1 922.7 L587.6 923.0 L589.1 922.3 L590.6 921.5 L592.2 920.7 L593.7 920.0 L595.2 920.2 L596.7 921.5 L598.2 922.3 L599.7 923.2 L601.3 922.5 L602.8 921.8 L604.3 921.2 L605.8 920.8 L607.3 921.6 L608.9 920.9 L610.4 922.1 L611.9 923.1 L613.4 922.5 L614.9 922.1 L616.5 919.9 L618.0 920.4 L619.5 920.3 L621.0 922.1 L622.5 922.9 L624.0 924.3 L625.6 924.7 L627.1 924.0 L628.6 923.1 L630.1 922.6 L631.6 922.1 L633.2 923.4 L634.7 923.3 L636.2 923.9 L637.7 923.3 L639.2 922.1 L640.8 922.0 L642.3 920.5 L643.8 922.2 L645.3 921.6 L646.8 923.8 L648.3 923.5 L649.9 923.3 L651.4 924.0 L652.9 923.3 L654.4 923.3 L655.9 922.7 L657.5 923.9 L659.0 923.7 L660.5 923.1 L662.0 922.7 L663.5 922.8 L665.1 923.3 L666.6 923.1 L668.1 923.0 L669.6 923.0 L671.1 925.0 L672.6 924.1 L674.2 924.6 L675.7 923.5 L677.2 923.6 L678.7 922.2 L680.2 923.2 L681.8 923.1 L683.3 921.9 L684.8 923.8 L686.3 922.7 L687.8 922.0 L689.4 922.5 L690.9 923.0 L692.4 923.3 L693.9 924.1 L695.4 925.0 L696.9 924.5 L698.5 924.1 L700.0 922.4 L701.5 922.6 L703.0 921.5 L704.5 922.4 L706.0 922.1 L707.6 922.9 L709.1 922.1 L710.6 921.9 L712.1 922.6 L713.6 922.5 L715.1 923.0 L716.7 923.6 L718.2 925.3 L719.7 924.7 L721.2 925.5 L722.7 925.4 L724.3 924.5 L725.8 924.4 L727.3 924.6 L728.8 925.0 L730.3 925.5 L731.8 925.4 L733.4 924.9 L734.9 923.3 L736.4 923.4 L737.9 922.6 L739.4 922.2 L740.9 923.7 L742.5 923.9 L744.0 924.4 L745.5 924.6 L747.0 925.0 L748.5 923.8 L750.0 924.3 L751.6 923.8 L753.1 924.1 L754.6 923.9 L756.1 922.8 L757.6 923.5 L759.2 923.0 L760.7 922.4 L762.2 922.5 L763.7 923.7 L765.2 926.0 L766.7 927.6 L768.3 927.3 L769.8 927.9 L771.3 925.9 L772.8 924.1 L774.3 923.3 L775.8 923.8 L777.4 924.6 L778.9 924.3 L780.4 924.2 L781.9 925.4 L783.4 924.7 L784.9 924.0 L786.5 925.4 L788.0 924.5 L789.5 926.0 L791.0 926.2 L792.6 926.9 L794.1 926.4 L795.6 925.9 L797.2 924.0 L798.7 924.5 L800.2 925.6 L801.8 925.9 L803.3 927.0 L804.8 926.8 L806.4 927.1 L807.9 927.4 L809.4 926.3 L811.0 927.2 L812.5 927.3 L814.0 929.2 L815.6 929.8 L817.1 929.8 L818.6 928.6 L820.2 926.6 L821.7 926.3 L823.3 925.2 L824.8 926.5 L826.3 926.4 L827.9 927.7 L829.4 928.1 L830.9 927.8 L832.5 929.0 L834.0 928.7 L835.5 928.7 L837.1 929.7 L838.6 931.3 L840.1 931.5 L841.7 930.7 L843.2 930.4 L844.7 930.7 L846.3 929.7 L847.8 930.1 L849.3 929.7 L850.9 929.1 L852.4 930.0 L853.9 930.3 L855.5 930.1 L857.0 930.3 L858.5 931.3 L860.1 931.0 L861.6 929.3 L863.1 930.2 L864.7 928.6 L866.2 928.6 L867.7 928.3 L869.2 928.7 L870.8 928.7 L872.3 929.3 L873.8 929.8 L875.4 931.4 L876.9 930.4 L878.4 932.3 L880.0 931.7 L881.5 932.5 L883.0 933.6 L884.6 933.4 L886.1 932.9 L887.6 932.1 L889.2 933.0 L890.7 931.7 L892.2 930.3 L893.8 929.6 L895.3 931.2 L896.8 930.5 L898.4 931.6 L899.9 932.4 L901.4 933.4 L902.9 933.6 L904.5 934.0 L906.0 933.9 L907.5 932.6 L909.1 932.7 L910.6 930.8 L912.1 931.6 L913.7 931.9 L915.2 932.2 L916.7 931.8 L918.2 933.1 L919.8 932.2 L921.3 931.5 L922.8 932.4 L924.3 931.6 L925.9 931.3 L927.4 931.5 L928.9 930.6 L930.4 931.1 L932.0 931.6 L933.5 932.0 L935.0 931.0 L936.5 932.3 L938.1 930.9 L939.6 931.0 L941.1 931.1 L942.6 930.8 L944.1 930.9 L945.7 932.1 L947.2 932.0 L948.7 931.7 L950.2 931.9 L951.8 930.7 L953.3 931.1 L954.8 931.6 L956.3 931.3 L957.9 932.0 L959.4 932.5 L960.9 932.5 L962.4 932.2 L964.0 931.3 L965.5 931.0 L967.0 931.8 L968.5 932.5 L970.1 933.2 L971.6 934.3 L973.1 935.5 L974.6 934.5 L976.1 935.0 L977.7 934.5 L979.2 934.3 L980.7 933.0 L982.2 932.2 L983.8 931.2 L985.3 931.7 L986.8 933.7 L988.3 933.9 L989.9 935.0 L991.4 935.9 L992.9 935.0 L994.4 933.7 L996.0 933.2 L997.5 932.2 L999.0 934.3 L1000.5 934.3 L1002.1 933.7 L1003.6 935.0 L1005.2 934.5 L1006.7 934.8 L1008.2 935.0 L1009.8 934.3 L1011.3 934.5 L1012.9 934.7 L1014.4 933.9 L1016.0 933.9 L1017.5 935.0" fill="none" stroke="#111111" stroke-width="5.8" stroke-linejoin="round" stroke-linecap="butt" stroke-dasharray="20.4 8.8"/>
<path clip-path="url(#cb)" d="M264.0 440.0 L265.3 450.0 L266.7 460.0 L268.0 470.0 L270.0 519.0 L271.2 494.5 L272.5 470.0 L274.2 455.0 L276.0 440.0 L277.2 440.0 L278.4 440.0 L279.7 440.0 L280.9 440.0 L282.1 440.0 L283.3 440.0 L284.6 440.0 L285.8 440.0 L287.0 440.0 L288.5 480.0 L290.0 520.0 L292.0 569.0 L293.5 554.5 L295.0 540.0 L296.5 529.5 L298.0 519.0 L299.2 529.2 L300.5 539.5 L301.8 549.8 L303.0 560.0 L304.2 556.2 L305.4 552.5 L306.6 548.8 L307.8 545.0 L309.1 546.5 L310.4 540.2 L311.8 545.9 L313.1 540.8 L314.4 543.0 L315.9 549.8 L317.3 564.1 L318.8 571.7 L320.1 572.0 L321.3 561.1 L322.6 566.6 L323.8 553.8 L325.1 558.8 L326.3 547.0 L327.6 547.4 L328.9 544.1 L330.3 553.8 L331.6 548.4 L333.0 558.7 L334.3 554.0 L336.5 580.5 L337.8 572.0 L339.0 580.8 L340.3 568.1 L341.5 573.5 L342.8 565.1 L344.0 568.3 L345.3 562.8 L346.6 568.0 L348.0 564.0 L349.3 575.6 L350.7 569.8 L352.0 578.3 L353.3 578.0 L354.5 590.4 L355.8 582.4 L357.0 592.7 L358.3 591.4 L359.5 602.9 L360.8 600.4 L362.1 595.8 L363.4 577.7 L364.8 578.7 L366.1 564.7 L367.4 558.4 L368.7 560.1 L370.0 575.8 L371.4 574.0 L372.7 585.3 L374.0 589.3 L375.5 580.7 L376.9 559.9 L378.4 554.0 L379.7 555.6 L381.0 569.5 L382.4 571.0 L383.7 582.6 L385.0 587.0 L386.3 585.9 L387.5 575.6 L388.8 580.1 L390.1 570.3 L391.4 575.0 L392.6 565.5 L393.9 565.0 L395.1 559.9 L396.3 566.9 L397.6 559.8 L398.8 566.3 L400.0 560.2 L401.2 566.2 L402.5 560.4 L403.7 568.9 L404.9 562.8 L406.2 566.2 L407.5 556.2 L408.9 563.0 L410.2 553.1 L411.5 554.0 L413.0 564.5 L414.5 587.4 L416.0 596.0 L417.2 596.6 L418.4 585.9 L419.7 590.2 L420.9 577.6 L422.1 579.2 L423.3 567.4 L424.6 571.6 L425.8 561.5 L427.0 560.6 L428.3 561.6 L429.6 568.9 L431.0 565.6 L432.3 575.7 L433.6 576.0 L434.8 580.4 L436.1 572.8 L437.3 579.9 L438.5 570.4 L439.8 580.2 L441.0 576.4 L442.3 588.1 L443.7 586.0 L445.0 601.5 L446.4 604.0 L447.7 613.9 L448.9 610.0 L450.1 622.6 L451.4 616.2 L452.6 623.3 L453.8 617.5 L455.0 629.9 L456.3 623.3 L457.5 633.4 L458.7 629.3 L460.0 636.1 L461.2 627.5 L462.5 636.7 L463.7 632.1 L465.0 637.6 L466.2 631.1 L467.5 638.2 L468.8 638.2 L470.0 648.6 L471.3 643.8 L472.6 654.8 L473.9 648.0 L475.1 658.2 L476.4 658.0 L477.7 661.4 L479.0 655.0 L480.4 662.8 L481.7 658.8 L483.0 662.5 L484.2 657.9 L485.4 666.9 L486.7 656.6 L487.9 663.5 L489.1 654.3 L490.3 662.2 L491.6 657.1 L492.8 661.4 L494.0 658.0 L495.5 670.5 L496.9 673.6 L498.4 684.5 L499.7 679.3 L501.0 682.6 L502.4 672.4 L503.7 676.3 L505.0 671.3 L506.3 683.4 L507.7 683.4 L509.0 703.7 L510.4 702.0 L511.7 715.4 L513.0 706.3 L514.3 710.9 L515.7 699.8 L517.0 699.7 L518.3 693.4 L519.6 697.5 L521.0 692.2 L522.3 704.7 L523.7 696.4 L525.0 704.4 L526.3 702.1 L527.6 708.0 L528.9 699.3 L530.2 707.5 L531.5 702.2 L533.0 712.7 L534.5 710.9 L536.0 724.3 L537.3 723.8 L538.5 731.5 L539.8 724.1 L541.0 736.2 L542.3 727.3 L543.5 738.5 L544.8 735.3 L546.1 741.7 L547.3 732.2 L548.6 742.3 L549.8 735.7 L551.1 747.2 L552.3 737.4 L553.6 744.1 L554.9 741.5 L556.1 751.1 L557.4 741.5 L558.6 752.1 L559.9 744.5 L561.1 753.2 L562.4 750.8 L563.7 756.8 L564.9 750.2 L566.2 758.4 L567.5 753.7 L568.7 765.8 L570.0 761.8 L571.2 768.6 L572.4 759.9 L573.6 769.4 L574.8 762.7 L576.0 772.9 L577.2 766.7 L578.4 776.8 L579.6 771.0 L580.8 779.2 L582.0 774.1 L583.2 777.3 L584.5 770.7 L585.7 775.9 L587.0 767.1 L588.2 771.6 L589.5 761.0 L590.7 766.2 L592.0 759.6 L593.2 767.7 L594.4 762.5 L595.6 769.7 L596.8 768.0 L598.0 777.9 L599.3 774.0 L600.5 781.6 L601.7 777.0 L602.9 789.0 L604.1 784.4 L605.3 790.5 L606.5 784.6 L607.8 791.5 L609.0 783.6 L610.3 789.1 L611.5 782.6 L612.8 789.5 L614.0 784.0 L615.2 789.3 L616.4 779.8 L617.6 788.0 L618.8 781.6 L620.0 788.4 L621.2 783.9 L622.4 789.7 L623.6 782.0 L624.8 791.6 L626.0 783.2 L627.2 792.6 L628.4 785.4 L629.6 788.3 L630.9 790.1 L632.2 799.4 L633.6 797.7 L634.9 806.5 L636.2 805.2 L637.5 815.8 L638.8 812.9 L640.2 822.7 L641.5 819.6 L642.8 828.0 L644.1 820.0 L645.5 824.9 L646.8 817.0 L648.2 817.3 L649.5 812.6 L650.7 817.6 L651.9 812.2 L653.1 818.2 L654.3 811.6 L655.5 818.1 L656.7 812.1 L657.9 818.3 L659.1 815.5 L660.3 820.9 L661.5 817.1 L662.7 819.2 L663.9 813.6 L665.2 818.5 L666.4 812.9 L667.6 814.9 L668.9 808.4 L670.1 813.2 L671.3 805.5 L672.6 811.0 L673.8 806.0 L675.3 820.2 L676.7 822.2 L678.2 836.9 L679.5 833.8 L680.8 839.8 L682.2 835.4 L683.5 840.6 L684.8 837.7 L686.1 842.3 L687.4 836.5 L688.8 842.3 L690.1 838.7 L691.4 841.3 L692.7 841.8 L693.9 850.4 L695.2 846.9 L696.4 855.7 L697.7 851.9 L698.9 860.7 L700.2 861.1 L701.5 862.5 L702.7 852.8 L704.0 856.0 L705.2 848.3 L706.5 853.5 L707.7 846.3 L709.0 845.7 L710.2 844.1 L711.4 850.7 L712.7 844.8 L713.9 851.9 L715.1 847.8 L716.3 855.3 L717.6 849.1 L718.8 857.4 L720.0 854.5 L721.2 858.2 L722.4 853.9 L723.7 859.9 L724.9 856.2 L726.1 864.0 L727.3 858.8 L728.5 866.1 L729.7 862.4 L731.0 869.0 L732.2 862.8 L733.4 867.8 L734.6 863.6 L735.8 869.4 L737.1 863.1 L738.3 867.8 L739.5 861.8 L740.7 868.2 L742.0 862.4 L743.2 865.2 L744.4 863.4 L745.6 867.4 L746.8 864.5 L748.0 871.9 L749.2 868.3 L750.4 873.6 L751.6 871.1 L752.8 877.2 L754.0 874.7 L755.2 881.1 L756.4 879.5 L757.6 883.2 L758.8 879.5 L760.1 883.1 L761.3 879.6 L762.5 882.6 L763.8 876.7 L765.0 881.9 L766.2 875.4 L767.5 880.6 L768.7 876.6 L769.9 879.6 L771.2 875.1 L772.4 880.4 L773.6 878.5 L774.8 883.1 L776.1 880.1 L777.3 885.2 L778.5 881.0 L779.8 886.5 L781.0 882.3 L782.2 888.2 L783.4 885.2 L784.7 889.5 L785.9 885.7 L787.1 892.4 L788.3 888.9 L789.6 893.9 L790.8 892.0 L792.0 895.4 L793.2 890.6 L794.5 895.2 L795.7 892.0 L796.9 895.7 L798.1 892.0 L799.4 896.5 L800.6 893.7 L801.8 897.9 L803.0 893.3 L804.2 897.4 L805.5 893.4 L806.7 898.4 L807.9 894.7 L809.1 899.4 L810.4 896.3 L811.6 899.7 L812.8 898.0 L814.0 900.0 L815.2 895.5 L816.5 901.4 L817.7 897.3 L818.9 900.9 L820.1 898.0 L821.3 901.2 L822.6 897.0 L823.8 902.6 L825.0 900.0 L826.2 902.2 L827.5 898.9 L828.8 902.1 L830.0 898.8 L831.2 904.1 L832.5 900.3 L833.8 904.3 L835.0 901.1 L836.2 903.6 L837.5 901.1 L838.8 905.1 L840.0 903.0 L841.2 905.0 L842.5 902.1 L843.8 906.3 L845.0 903.4 L846.2 907.3 L847.5 904.1 L848.8 907.6 L850.0 906.0 L851.2 907.6 L852.4 905.1 L853.6 908.6 L854.8 905.0 L856.0 908.7 L857.2 905.4 L858.4 909.4 L859.6 906.4 L860.8 909.1 L862.0 908.0 L863.2 910.7 L864.5 906.8 L865.8 911.5 L867.0 907.3 L868.2 912.7 L869.5 908.3 L870.8 912.9 L872.0 912.0 L873.2 914.9 L874.4 910.3 L875.6 916.1 L876.8 912.2 L878.0 915.8 L879.2 911.9 L880.4 916.5 L881.6 912.6 L882.8 918.8 L884.0 916.5 L885.2 917.4 L886.4 914.6 L887.6 918.2 L888.8 914.1 L890.0 916.4 L891.2 912.4 L892.4 916.5 L893.6 911.9 L894.8 915.4 L896.0 914.0 L897.3 916.1 L898.5 912.4 L899.8 916.0 L901.1 914.1 L902.4 918.2 L903.6 913.4 L904.9 919.5 L906.2 915.8 L907.5 919.2 L908.7 915.1 L910.0 918.0 L911.2 915.9 L912.4 920.1 L913.7 916.4 L914.9 918.6 L916.1 916.3 L917.3 918.3 L918.6 915.2 L919.8 919.1 L921.0 917.0 L922.3 919.6 L923.6 916.8 L924.9 919.8 L926.1 917.7 L927.4 922.2 L928.7 917.0 L930.0 920.5 L931.2 917.7 L932.5 921.7 L933.8 919.6 L935.0 923.6 L936.2 918.8 L937.5 923.3 L938.8 919.2 L940.0 922.7 L941.2 918.9 L942.5 922.7 L943.8 918.8 L945.0 921.0 L946.3 920.4 L947.6 924.0 L948.9 919.2 L950.2 923.5 L951.5 920.6 L952.8 925.3 L954.1 921.3 L955.4 924.7 L956.7 922.5 L958.0 924.0 L959.2 922.0 L960.4 924.8 L961.6 921.1 L962.8 926.4 L964.0 921.4 L965.2 926.4 L966.4 921.4 L967.6 925.3 L968.8 921.4 L970.0 923.5 L971.2 921.7 L972.5 926.9 L973.8 921.5 L975.0 925.8 L976.2 921.7 L977.5 927.2 L978.8 922.4 L980.0 927.8 L981.2 923.6 L982.5 928.4 L983.8 923.0 L985.0 926.0 L986.2 923.7 L987.5 928.6 L988.8 923.6 L990.0 927.9 L991.2 923.8 L992.5 927.3 L993.8 924.7 L995.0 928.2 L996.2 925.5 L997.5 928.1 L998.8 924.2 L1000.0 926.5 L1001.2 924.5 L1002.5 928.3 L1003.8 924.3 L1005.0 929.7 L1006.2 926.0 L1007.5 930.1 L1008.8 925.9 L1010.0 930.2 L1011.2 926.7 L1012.5 931.6 L1013.8 926.6 L1015.0 931.4 L1016.2 926.8 L1017.5 929.5" fill="none" stroke="#d62728" stroke-width="5.8" stroke-linejoin="round" stroke-linecap="square"/>
<path clip-path="url(#cb)" d="M253.0 440.0 L254.3 460.0 L255.7 480.0 L257.0 500.0 L258.5 527.5 L260.0 555.0 L261.5 527.5 L263.0 500.0 L264.3 480.0 L265.7 460.0 L267.0 440.0 L268.3 440.0 L269.7 440.0 L271.0 440.0 L272.2 470.0 L273.5 500.0 L274.8 530.0 L276.0 560.0 L277.3 569.0 L278.6 578.0 L280.0 587.0 L281.3 596.0 L282.9 577.3 L284.4 558.7 L286.0 540.0 L287.3 506.7 L288.7 473.3 L290.0 440.0 L291.2 440.0 L292.4 440.0 L293.6 440.0 L294.8 440.0 L296.0 440.0 L297.3 473.3 L298.7 506.7 L300.0 540.0 L301.2 549.5 L302.5 559.0 L303.8 568.5 L305.0 578.0 L306.4 578.1 L307.8 578.3 L309.1 582.1 L310.4 603.5 L311.8 605.2 L313.1 620.8 L314.4 626.9 L315.7 621.7 L317.0 608.7 L318.4 608.8 L319.7 594.3 L321.0 589.3 L322.5 597.1 L323.9 616.4 L325.4 626.9 L326.9 625.0 L328.3 612.8 L329.8 613.6 L331.5 637.7 L333.2 668.8 L334.6 645.9 L335.9 634.5 L337.3 607.0 L338.7 591.5 L340.1 574.9 L341.6 567.0 L343.0 551.8 L344.5 569.2 L346.0 570.9 L347.5 589.3 L348.8 580.7 L350.1 588.6 L351.4 578.0 L352.7 582.0 L354.0 576.0 L355.3 588.9 L356.6 587.8 L357.9 602.9 L359.1 606.1 L360.4 620.4 L361.7 621.3 L363.0 633.5 L364.3 618.6 L365.6 618.0 L367.0 602.5 L368.3 600.0 L369.6 585.0 L370.9 594.6 L372.1 593.0 L373.4 605.7 L374.6 605.3 L375.9 618.4 L377.1 615.9 L378.4 626.9 L379.7 617.6 L381.0 616.8 L382.4 603.1 L383.7 603.3 L385.0 591.5 L386.2 597.9 L387.4 597.4 L388.7 608.0 L389.9 604.7 L391.1 615.6 L392.3 614.3 L393.6 625.1 L394.8 623.9 L396.0 631.3 L397.3 619.1 L398.7 620.3 L400.0 602.3 L401.4 603.5 L402.7 589.3 L404.0 600.2 L405.3 600.4 L406.7 617.8 L408.0 620.3 L409.3 631.3 L410.5 622.2 L411.8 628.6 L413.0 617.0 L414.2 617.6 L415.5 605.4 L416.7 609.5 L417.9 599.3 L419.2 599.8 L420.4 593.8 L421.7 600.6 L423.0 599.1 L424.4 614.3 L425.7 607.2 L427.0 618.0 L428.3 611.6 L429.5 614.9 L430.8 607.3 L432.0 613.0 L433.3 600.1 L434.5 607.4 L435.8 600.4 L437.3 615.5 L438.8 625.0 L440.1 632.1 L441.5 627.4 L442.8 638.7 L444.2 634.4 L445.5 640.4 L446.8 625.3 L448.1 627.4 L449.4 610.1 L450.7 606.3 L452.0 594.0 L453.3 604.3 L454.7 600.8 L456.0 614.3 L457.4 609.5 L458.7 618.3 L460.1 608.4 L461.6 612.7 L463.0 602.8 L464.3 604.8 L465.6 598.3 L466.9 603.5 L468.2 595.2 L469.5 603.8 L470.8 598.4 L472.2 607.4 L473.6 606.2 L475.0 621.9 L476.4 625.0 L477.7 631.8 L479.0 629.3 L480.4 642.8 L481.7 636.7 L483.0 644.8 L484.5 641.8 L485.9 653.4 L487.4 649.2 L488.7 648.9 L490.0 631.8 L491.4 634.2 L492.7 620.2 L494.0 618.3 L495.3 619.8 L496.6 637.5 L498.0 635.2 L499.3 649.8 L500.6 653.6 L502.0 652.5 L503.4 639.9 L504.8 644.6 L506.2 636.0 L507.5 640.1 L508.8 635.6 L510.0 648.2 L511.3 639.6 L512.6 652.6 L513.9 649.2 L515.4 660.7 L516.8 657.0 L518.3 666.9 L519.6 664.4 L521.0 675.5 L522.3 672.5 L523.7 680.7 L525.0 680.0 L526.3 684.4 L527.5 676.8 L528.8 688.6 L530.0 681.1 L531.3 690.8 L532.5 685.4 L533.8 689.0 L535.1 684.5 L536.4 692.8 L537.8 684.2 L539.1 690.0 L540.4 686.7 L541.7 694.2 L543.0 691.5 L544.4 703.3 L545.7 700.2 L547.0 706.6 L548.3 704.7 L549.5 710.3 L550.8 702.8 L552.0 712.8 L553.3 703.6 L554.5 714.2 L555.8 708.8 L557.1 713.0 L558.4 708.6 L559.8 715.3 L561.1 708.7 L562.4 713.2 L563.9 718.0 L565.4 732.5 L566.9 735.3 L568.2 739.4 L569.4 734.5 L570.7 741.3 L571.9 733.5 L573.2 741.9 L574.4 737.8 L575.7 742.0 L577.0 743.5 L578.4 753.3 L579.7 751.7 L581.0 759.6 L582.2 758.7 L583.4 768.4 L584.7 761.0 L585.9 770.9 L587.1 765.8 L588.3 773.4 L589.6 767.5 L590.8 778.3 L592.0 775.0 L593.3 780.8 L594.7 777.7 L596.0 789.3 L597.4 782.5 L598.7 790.5 L600.0 785.3 L601.3 788.9 L602.7 778.0 L604.0 783.1 L605.3 777.3 L606.5 785.3 L607.8 780.7 L609.0 793.9 L610.3 788.7 L611.5 800.4 L612.8 797.1 L614.0 803.8 L615.2 799.5 L616.4 806.6 L617.7 800.4 L618.9 806.7 L620.1 801.1 L621.3 805.9 L622.5 801.4 L623.7 807.3 L625.0 801.3 L626.2 805.5 L627.4 803.8 L628.7 810.1 L629.9 805.0 L631.2 814.3 L632.4 807.7 L633.7 816.1 L634.9 810.5 L636.2 817.0 L637.4 812.9 L638.6 820.8 L639.8 816.9 L641.0 823.1 L642.2 815.6 L643.5 824.2 L644.7 817.0 L645.9 824.7 L647.1 818.8 L648.3 825.4 L649.5 823.6 L650.7 826.8 L651.9 821.7 L653.1 827.6 L654.3 822.4 L655.5 829.8 L656.7 824.0 L657.9 828.5 L659.1 824.5 L660.3 831.9 L661.5 824.4 L662.7 828.0 L663.9 828.6 L665.2 836.6 L666.4 830.4 L667.6 841.0 L668.9 836.6 L670.1 845.1 L671.3 841.2 L672.6 847.6 L673.8 848.0 L675.0 852.3 L676.2 844.3 L677.4 850.6 L678.6 844.6 L679.8 850.3 L681.0 846.8 L682.2 850.7 L683.4 847.6 L684.6 851.5 L685.8 846.3 L687.0 850.0 L688.3 848.0 L689.6 852.3 L690.9 848.7 L692.2 853.0 L693.5 847.0 L694.8 854.3 L696.0 849.7 L697.3 854.9 L698.6 848.8 L699.9 854.5 L701.2 849.3 L702.5 852.3 L703.7 850.3 L704.9 858.3 L706.1 853.2 L707.3 860.2 L708.5 855.7 L709.7 862.6 L710.9 858.4 L712.1 864.4 L713.3 860.5 L714.5 867.6 L715.7 865.6 L716.9 867.8 L718.1 862.2 L719.3 868.8 L720.5 862.8 L721.7 869.7 L723.0 863.0 L724.2 870.1 L725.4 864.8 L726.6 869.7 L727.8 864.8 L729.0 867.8 L730.3 864.3 L731.5 870.6 L732.8 865.4 L734.0 867.9 L735.3 864.8 L736.5 867.3 L737.8 865.6 L739.1 868.1 L740.3 867.0 L741.6 871.1 L742.8 869.2 L744.1 874.8 L745.3 870.5 L746.6 874.4 L747.9 871.5 L749.1 879.2 L750.4 873.3 L751.7 880.4 L752.9 876.4 L754.2 879.8 L755.5 875.4 L756.7 881.7 L758.0 878.5 L759.2 883.6 L760.5 879.2 L761.8 884.3 L763.0 880.8 L764.3 883.2 L765.6 881.9 L766.8 885.1 L768.1 881.7 L769.4 887.7 L770.6 881.4 L771.9 887.9 L773.1 882.2 L774.4 887.6 L775.7 884.3 L776.9 889.5 L778.2 884.3 L779.5 889.5 L780.7 886.3 L782.0 887.6 L783.3 886.3 L784.5 890.0 L785.8 885.5 L787.0 891.0 L788.3 885.8 L789.5 890.2 L790.8 886.9 L792.1 891.7 L793.3 886.0 L794.6 891.1 L795.8 888.0 L797.1 891.7 L798.3 887.6 L799.6 889.8 L800.9 889.0 L802.2 893.0 L803.6 890.8 L804.9 895.5 L806.2 893.1 L807.5 897.2 L808.8 893.1 L810.2 899.4 L811.5 896.4 L812.8 898.7 L814.0 896.7 L815.3 899.4 L816.5 895.7 L817.8 900.2 L819.0 896.5 L820.3 899.6 L821.5 895.2 L822.8 899.3 L824.0 897.0 L825.2 899.1 L826.4 896.3 L827.7 899.9 L828.9 895.7 L830.1 900.8 L831.3 897.6 L832.6 901.9 L833.8 899.2 L835.0 900.9 L836.2 898.9 L837.5 901.8 L838.8 898.6 L840.0 901.6 L841.2 898.1 L842.5 902.3 L843.8 897.7 L845.0 899.0 L846.3 898.6 L847.5 903.6 L848.8 900.8 L850.1 905.6 L851.3 902.6 L852.6 906.0 L853.9 904.7 L855.3 907.7 L856.6 904.0 L858.0 906.3 L859.3 902.0 L860.7 907.3 L862.0 904.0 L863.3 907.3 L864.7 904.6 L866.0 908.7 L867.3 906.3 L868.7 911.4 L870.0 909.7 L871.2 910.9 L872.4 908.0 L873.6 911.4 L874.8 906.8 L876.0 911.0 L877.2 906.8 L878.4 911.4 L879.6 906.5 L880.8 911.0 L882.0 908.0 L883.2 910.3 L884.5 907.2 L885.7 911.2 L886.9 907.7 L888.1 913.1 L889.4 909.8 L890.6 913.7 L891.8 909.8 L893.1 914.7 L894.3 913.3 L895.6 915.3 L897.0 910.5 L898.3 914.8 L899.6 910.5 L901.0 913.4 L902.3 910.6 L903.7 914.1 L905.0 911.0 L906.3 914.1 L907.6 910.3 L908.9 915.4 L910.2 910.2 L911.5 914.7 L912.8 911.3 L914.1 916.3 L915.4 913.4 L916.7 916.9 L918.0 916.0 L919.2 917.6 L920.5 914.6 L921.8 916.4 L923.0 914.1 L924.2 916.6 L925.5 913.6 L926.8 915.8 L928.0 914.5 L929.4 917.6 L930.7 913.8 L932.1 917.9 L933.5 914.3 L934.8 919.9 L936.2 917.5 L937.5 918.6 L938.8 915.9 L940.1 919.9 L941.4 914.2 L942.8 919.8 L944.1 914.8 L945.4 918.4 L946.7 915.3 L948.0 916.5 L949.2 914.1 L950.4 919.9 L951.6 915.8 L952.8 920.9 L954.0 917.3 L955.2 921.2 L956.4 916.8 L957.6 921.2 L958.8 918.4 L960.0 921.0 L961.2 919.5 L962.5 923.3 L963.8 917.8 L965.0 922.5 L966.2 918.2 L967.5 920.8 L968.8 917.7 L970.0 919.5 L971.3 918.4 L972.7 922.3 L974.0 920.1 L975.3 924.5 L976.7 920.3 L978.0 922.8 L979.2 920.6 L980.4 925.3 L981.6 919.8 L982.8 924.5 L984.0 920.4 L985.2 925.0 L986.4 920.6 L987.6 925.0 L988.8 921.1 L990.0 922.0 L991.2 919.9 L992.5 924.9 L993.8 921.1 L995.0 926.7 L996.2 922.8 L997.5 926.4 L998.8 922.5 L1000.0 925.5 L1001.3 922.9 L1002.7 927.2 L1004.0 922.5 L1005.3 927.2 L1006.7 921.9 L1008.0 924.5 L1009.4 922.6 L1010.7 926.9 L1012.1 924.1 L1013.4 927.0 L1014.8 925.1 L1016.1 927.6 L1017.5 927.0" fill="none" stroke="#1f77b4" stroke-width="5.8" stroke-linejoin="round" stroke-linecap="square"/>
<path clip-path="url(#cc)" d="M1292.0 5.0 L1293.0 15.0 L1294.8 24.6 L1296.5 35.9 L1298.2 41.4 L1300.0 50.0 L1303.0 66.0 L1305.0 100.0 L1307.3 109.3 L1309.5 148.0 L1311.7 163.8 L1313.8 182.6 L1315.4 192.5 L1317.0 205.0 L1318.7 214.5 L1320.3 225.8 L1322.4 239.2 L1324.6 256.0 L1326.8 258.6 L1329.0 264.6 L1332.0 338.0 L1333.7 315.6 L1335.4 290.5 L1337.5 230.0 L1339.1 227.6 L1340.8 228.8 L1342.4 226.2 L1344.0 225.8 L1345.6 218.2 L1347.2 214.3 L1348.9 205.8 L1350.5 200.0 L1352.1 193.9 L1353.8 192.2 L1355.4 186.0 L1357.0 182.6 L1358.6 176.5 L1360.2 173.8 L1361.8 164.8 L1363.4 161.0 L1365.7 161.2 L1368.0 165.0 L1370.0 156.2 L1372.0 150.3 L1373.6 156.7 L1375.2 165.4 L1376.9 170.0 L1378.5 178.3 L1380.3 174.1 L1382.2 173.4 L1384.0 168.0 L1385.8 163.9 L1387.5 156.8 L1389.3 152.4 L1391.0 155.0 L1392.8 161.8 L1394.5 163.5 L1396.3 170.9 L1398.0 174.0 L1399.7 182.3 L1401.4 186.7 L1403.2 196.0 L1404.9 200.7 L1406.6 208.5 L1408.2 204.6 L1409.8 203.9 L1411.4 197.9 L1413.0 195.6 L1414.7 199.9 L1416.5 208.6 L1418.2 211.8 L1420.0 221.6 L1421.7 225.8 L1423.4 229.2 L1425.1 227.6 L1426.9 232.4 L1428.6 231.1 L1430.3 234.4 L1432.0 234.9 L1433.8 238.3 L1435.5 236.6 L1437.3 240.6 L1439.0 241.0 L1440.7 240.7 L1442.4 234.8 L1444.2 235.6 L1445.9 231.1 L1447.6 230.0 L1449.3 226.2 L1451.0 226.0 L1452.8 220.3 L1454.5 220.9 L1456.2 217.2 L1457.9 215.2 L1459.7 211.3 L1461.4 211.0 L1463.2 204.8 L1464.9 204.2 L1466.6 198.2 L1468.3 196.0 L1470.0 190.0 L1472.1 186.1 L1474.2 177.9 L1476.3 174.3 L1477.9 171.8 L1479.5 172.6 L1481.1 168.2 L1482.7 168.0 L1484.8 164.4 L1486.9 164.7 L1489.0 161.7 L1490.6 170.4 L1492.2 177.5 L1494.1 173.5 L1496.0 165.5 L1497.9 163.4 L1499.8 155.8 L1501.7 152.2 L1503.6 153.7 L1505.5 158.0 L1507.4 159.1 L1509.3 164.0 L1511.2 164.8 L1513.3 165.5 L1515.4 161.6 L1517.5 161.7 L1519.4 163.9 L1521.3 170.8 L1523.2 171.2 L1525.1 178.8 L1527.0 180.7 L1528.6 185.8 L1530.2 186.6 L1531.8 194.5 L1533.4 196.5 L1536.5 183.8 L1538.1 191.9 L1539.7 204.7 L1541.3 211.1 L1542.9 221.9 L1544.8 227.7 L1546.7 236.8 L1548.6 241.0 L1550.5 250.6 L1552.4 256.7 L1554.3 259.9 L1556.2 260.1 L1558.1 266.0 L1560.0 265.6 L1561.9 269.4 L1564.0 270.8 L1566.1 276.4 L1568.2 278.9 L1570.3 291.5 L1572.4 301.1 L1574.5 313.7 L1576.1 309.3 L1577.7 308.2 L1579.3 303.5 L1580.9 301.0 L1582.8 305.0 L1584.7 313.0 L1586.6 314.3 L1588.5 323.0 L1590.4 326.4 L1593.5 358.0 L1595.1 344.1 L1596.7 332.7 L1598.6 341.9 L1600.5 354.9 L1602.4 361.8 L1604.3 374.9 L1606.2 383.4 L1608.3 380.9 L1610.4 376.2 L1612.5 373.9 L1614.4 374.0 L1616.3 379.4 L1618.2 377.8 L1620.1 382.9 L1622.0 383.4 L1623.8 386.9 L1625.6 386.5 L1627.4 392.0 L1629.3 391.4 L1631.1 396.0 L1632.9 396.0 L1634.7 399.2 L1636.7 405.5 L1638.7 415.7 L1640.6 421.5 L1642.6 431.0 L1644.6 424.3 L1646.6 422.1 L1648.6 415.3 L1650.6 412.0 L1652.5 413.0 L1654.4 418.8 L1656.2 418.1 L1658.1 423.0 L1660.0 424.6 L1661.9 423.8 L1663.8 418.8 L1665.8 420.7 L1667.7 416.1 L1669.6 415.0 L1671.5 416.8 L1673.4 420.9 L1675.2 422.0 L1677.1 426.5 L1679.0 427.8 L1680.8 429.1 L1682.6 426.9 L1684.4 430.7 L1686.3 428.9 L1688.1 431.4 L1689.9 429.5 L1691.7 431.0 L1693.5 430.0 L1695.2 432.6 L1697.0 431.2 L1698.8 433.2 L1700.5 431.5 L1702.3 434.6 L1704.1 432.0 L1705.8 434.3 L1707.6 434.0 L1709.4 435.3 L1711.1 431.5 L1712.9 434.7 L1714.6 431.0 L1716.4 432.9 L1718.1 430.8 L1719.9 432.4 L1721.6 429.7 L1723.4 431.0 L1725.3 430.8 L1727.2 433.8 L1729.2 431.8 L1731.1 435.0 L1733.0 434.0" fill="none" stroke="#d62728" stroke-width="5.8" stroke-linejoin="round" stroke-linecap="square"/>
<path clip-path="url(#cc)" d="M1304.0 5.0 L1305.0 15.0 L1307.2 21.4 L1309.5 31.6 L1311.1 41.6 L1312.8 53.8 L1314.4 61.9 L1316.0 74.7 L1317.6 84.7 L1319.2 97.1 L1320.8 105.7 L1322.4 118.0 L1324.1 125.5 L1325.7 137.0 L1327.3 142.9 L1329.0 152.4 L1330.6 158.0 L1332.2 168.5 L1333.8 173.6 L1335.4 182.6 L1337.1 185.0 L1338.7 192.9 L1340.3 193.8 L1342.0 200.0 L1344.1 212.7 L1346.2 229.3 L1348.3 243.0 L1349.9 255.6 L1351.5 263.2 L1353.2 276.4 L1354.8 286.2 L1356.4 294.6 L1358.0 299.5 L1359.7 310.3 L1361.3 316.4 L1363.2 310.1 L1365.0 300.0 L1366.7 305.7 L1368.3 306.1 L1370.0 312.0 L1371.6 321.4 L1373.2 335.2 L1374.8 343.0 L1376.4 355.3 L1378.5 375.9 L1380.7 400.4 L1382.8 420.0 L1384.4 413.5 L1386.0 403.2 L1387.7 399.3 L1389.3 389.8 L1391.0 385.3 L1392.8 376.9 L1394.5 373.4 L1396.3 364.1 L1398.0 359.6 L1399.6 362.0 L1401.2 366.7 L1402.8 367.9 L1404.4 372.5 L1406.6 356.8 L1408.7 342.3 L1410.3 342.6 L1412.0 348.0 L1413.6 347.5 L1415.2 351.0 L1417.6 339.3 L1420.0 330.0 L1422.0 322.5 L1424.0 319.9 L1426.0 312.0 L1427.6 318.5 L1429.2 321.7 L1430.9 329.7 L1432.5 333.7 L1434.1 336.9 L1435.8 336.6 L1437.4 341.5 L1439.0 342.3 L1440.7 347.0 L1442.4 347.7 L1444.2 354.0 L1445.9 355.4 L1447.6 359.6 L1449.3 358.5 L1451.0 362.5 L1452.8 361.0 L1454.5 364.3 L1456.2 364.0 L1457.9 362.4 L1459.7 355.1 L1461.4 354.9 L1463.2 348.9 L1464.9 346.6 L1466.6 343.3 L1468.3 343.4 L1470.0 339.0 L1472.1 342.0 L1474.2 341.9 L1476.3 345.4 L1478.2 341.8 L1480.1 341.4 L1482.0 336.7 L1483.9 336.1 L1485.8 332.7 L1487.7 333.4 L1489.6 331.4 L1491.5 334.4 L1493.4 331.2 L1495.3 332.7 L1496.9 324.7 L1498.5 320.0 L1500.1 310.7 L1501.7 304.2 L1503.7 296.7 L1505.7 293.3 L1507.6 283.3 L1509.6 278.9 L1511.9 288.7 L1514.3 301.0 L1516.2 296.1 L1518.1 296.0 L1520.0 290.2 L1521.9 289.8 L1523.8 285.2 L1525.4 281.6 L1527.0 272.5 L1528.6 269.8 L1530.2 263.0 L1532.3 259.4 L1534.4 251.0 L1536.5 247.2 L1538.1 245.3 L1539.7 247.3 L1541.3 243.1 L1542.9 244.0 L1545.0 236.2 L1547.1 233.3 L1549.2 225.0 L1550.8 238.3 L1552.4 250.4 L1554.7 234.3 L1557.0 215.5 L1559.0 215.4 L1561.0 211.3 L1563.0 211.6 L1565.0 209.2 L1566.6 205.2 L1568.2 198.0 L1570.1 203.2 L1572.1 205.0 L1574.0 210.0 L1575.7 210.7 L1577.5 214.7 L1579.2 213.0 L1580.9 215.5 L1583.0 209.5 L1585.1 205.9 L1587.2 199.7 L1589.1 203.8 L1591.0 204.2 L1592.9 210.0 L1594.8 211.4 L1596.7 215.5 L1598.7 214.0 L1600.7 215.2 L1602.6 212.3 L1604.6 212.4 L1606.6 220.0 L1608.5 231.4 L1610.5 236.6 L1612.5 247.2 L1614.1 251.8 L1615.7 260.5 L1617.3 265.0 L1618.9 272.5 L1621.0 271.8 L1623.1 275.3 L1625.2 275.7 L1627.3 285.0 L1629.4 291.3 L1631.5 301.0 L1633.1 301.5 L1634.7 305.9 L1636.3 304.2 L1637.9 307.4 L1640.0 318.8 L1642.1 333.7 L1644.2 345.4 L1646.1 351.4 L1648.0 354.5 L1649.9 361.3 L1651.8 364.1 L1653.7 370.7 L1655.8 373.0 L1657.9 378.9 L1660.0 380.2 L1661.6 385.7 L1663.2 387.4 L1664.8 393.3 L1666.4 396.0 L1668.3 400.6 L1670.2 401.7 L1672.1 406.9 L1674.0 408.2 L1675.9 412.0 L1677.8 410.3 L1679.7 412.6 L1681.6 410.5 L1683.5 414.0 L1685.4 412.0 L1687.3 416.3 L1689.2 416.1 L1691.1 420.9 L1693.0 421.3 L1694.9 424.6 L1696.8 426.1 L1698.7 431.5 L1700.6 430.5 L1702.5 435.4 L1704.4 437.3 L1706.3 436.5 L1708.2 432.0 L1710.1 432.4 L1712.0 428.0 L1713.9 427.8 L1715.8 427.2 L1717.7 431.7 L1719.6 430.4 L1721.5 434.5 L1723.4 434.0 L1725.3 434.1 L1727.2 430.7 L1729.2 431.3 L1731.1 428.2 L1733.0 427.8" fill="none" stroke="#1f77b4" stroke-width="5.8" stroke-linejoin="round" stroke-linecap="square"/>
<path clip-path="url(#cd)" d="M1189.5 915.0 L1191.0 922.0 L1193.0 928.0 L1196.0 933.0 L1199.0 933.3 L1202.0 933.6 L1205.0 934.2 L1208.0 933.3 L1211.0 934.2 L1214.0 934.9 L1217.0 935.1 L1220.0 934.5 L1222.8 933.9 L1225.5 934.8 L1228.3 934.8 L1231.0 934.5 L1233.8 935.5 L1236.6 934.6 L1239.3 934.5 L1242.1 935.5 L1244.8 934.9 L1247.6 934.2 L1250.3 934.2 L1253.1 934.6 L1255.9 933.7 L1258.6 934.9 L1261.4 935.1 L1264.1 934.5 L1266.9 935.4 L1269.7 935.5 L1272.4 934.8 L1275.2 935.1 L1277.9 934.0 L1280.7 933.8 L1283.4 935.7 L1286.2 934.3 L1289.0 934.2 L1291.7 935.6 L1294.5 935.3 L1297.2 934.0 L1300.0 934.8 L1302.7 934.4 L1305.4 934.3 L1308.1 934.3 L1310.8 933.8 L1313.5 934.8 L1316.2 934.4 L1318.9 934.6 L1321.6 934.2 L1324.3 934.0 L1327.0 933.9 L1329.7 935.5 L1332.4 935.3 L1335.1 934.9 L1337.8 934.0 L1340.5 934.1 L1343.2 934.0 L1345.9 934.4 L1348.6 933.9 L1351.4 934.4 L1354.1 934.2 L1356.8 934.2 L1359.5 935.1 L1362.2 934.7 L1364.9 934.7 L1367.6 934.5 L1370.3 934.9 L1373.0 935.4 L1375.7 934.4 L1378.4 933.9 L1381.1 934.8 L1383.8 934.6 L1386.5 935.4 L1389.2 934.0 L1391.9 935.5 L1394.6 933.8 L1397.3 934.9 L1400.0 934.8 L1402.7 934.7 L1405.4 934.4 L1408.1 935.6 L1410.8 935.2 L1413.5 934.1 L1416.2 934.8 L1418.9 935.0 L1421.6 933.8 L1424.3 933.9 L1427.0 935.0 L1429.7 935.2 L1432.4 934.7 L1435.1 934.6 L1437.8 934.8 L1440.5 934.3 L1443.2 935.5 L1445.9 935.7 L1448.6 934.7 L1451.4 933.8 L1454.1 934.5 L1456.8 935.3 L1459.5 934.4 L1462.2 933.9 L1464.9 934.1 L1467.6 935.1 L1470.3 934.9 L1473.0 934.3 L1475.7 934.9 L1478.4 935.2 L1481.1 935.6 L1483.8 935.3 L1486.5 934.5 L1489.2 935.3 L1491.9 935.5 L1494.6 935.4 L1497.3 935.2 L1500.0 934.8 L1502.7 934.7 L1505.4 935.3 L1508.1 934.9 L1510.8 935.1 L1513.5 934.1 L1516.2 933.8 L1518.9 934.2 L1521.6 934.8 L1524.3 934.8 L1527.0 934.0 L1529.7 934.0 L1532.4 935.5 L1535.1 933.7 L1537.8 935.4 L1540.5 935.1 L1543.2 934.7 L1545.9 935.6 L1548.6 934.9 L1551.4 933.6 L1554.1 935.4 L1556.8 934.4 L1559.5 935.4 L1562.2 935.2 L1564.9 933.8 L1567.6 933.6 L1570.3 933.6 L1573.0 935.1 L1575.7 935.1 L1578.4 934.0 L1581.1 933.8 L1583.8 934.3 L1586.5 935.1 L1589.2 935.0 L1591.9 935.2 L1594.6 935.4 L1597.3 935.0 L1600.0 934.5 L1602.7 935.2 L1605.4 933.5 L1608.1 933.5 L1610.8 935.2 L1613.5 934.7 L1616.2 934.2 L1618.9 933.8 L1621.6 934.2 L1624.3 934.2 L1627.0 934.5 L1629.7 934.4 L1632.4 933.9 L1635.1 933.7 L1637.8 933.9 L1640.5 933.8 L1643.2 933.7 L1645.9 934.3 L1648.6 933.8 L1651.4 935.1 L1654.1 934.6 L1656.8 934.4 L1659.5 934.8 L1662.2 934.0 L1664.9 933.5 L1667.6 933.7 L1670.3 934.2 L1673.0 934.2 L1675.7 934.0 L1678.4 934.1 L1681.1 935.2 L1683.8 933.5 L1686.5 934.4 L1689.2 934.3 L1691.9 934.1 L1694.6 934.9 L1697.3 933.9 L1700.0 934.5 L1702.7 933.6 L1705.4 933.8 L1708.1 935.4 L1710.8 934.2 L1713.5 933.7 L1716.2 935.4 L1718.9 934.8 L1721.6 935.4 L1724.3 934.1 L1727.0 935.1 L1729.7 933.5 L1732.4 933.9 L1735.1 935.0 L1737.8 934.5 L1740.5 935.0 L1743.2 934.2 L1745.9 935.2 L1748.6 933.6 L1751.4 934.6 L1754.1 933.8 L1756.8 933.8 L1759.5 935.1 L1762.2 934.2 L1764.9 935.0 L1767.6 933.9 L1770.3 934.8 L1773.0 935.2 L1775.7 934.6 L1778.4 933.8 L1781.1 934.7 L1783.8 935.2 L1786.5 934.9 L1789.2 934.2 L1791.9 934.1 L1794.6 933.5 L1797.3 934.8 L1800.0 934.3 L1802.7 933.6 L1805.4 933.7 L1808.2 933.4 L1810.9 933.6 L1813.6 934.1 L1816.3 934.3 L1819.0 933.7 L1821.8 934.2 L1824.5 934.8 L1827.2 933.5 L1829.9 933.6 L1832.6 934.4 L1835.4 935.2 L1838.1 935.2 L1840.8 934.5 L1843.5 933.5 L1846.2 935.1 L1848.9 935.3 L1851.7 935.2 L1854.4 934.4 L1857.1 934.1 L1859.8 934.6 L1862.5 935.0 L1865.3 935.4 L1868.0 934.4 L1870.7 934.4 L1873.4 934.0 L1876.1 934.5 L1878.9 934.5 L1881.6 934.0 L1884.3 934.3 L1887.0 935.2 L1889.7 933.9 L1892.5 933.9 L1895.2 934.0 L1897.9 935.1 L1900.6 934.0 L1903.3 935.1 L1906.1 935.3 L1908.8 935.2 L1911.5 935.1 L1914.2 933.8 L1916.9 934.4 L1919.6 935.1 L1922.4 933.9 L1925.1 934.7 L1927.8 935.2 L1930.5 935.3 L1933.2 934.2 L1936.0 933.7 L1938.7 933.5 L1941.4 934.1 L1944.1 934.6 L1946.8 934.1 L1949.6 935.1 L1952.3 934.8 L1955.0 934.5 L1958.0 932.5 L1961.0 930.0 L1966.0 934.5 L1968.8 935.2 L1971.5 934.2 L1974.2 934.8 L1977.0 934.3 L1979.8 934.2 L1982.5 933.8 L1985.2 935.2 L1988.0 935.4 L1990.8 933.7 L1993.5 935.1 L1996.2 933.8 L1999.0 934.5 L2001.8 934.3 L2004.5 935.5 L2007.2 934.6 L2010.0 934.8 L2012.8 934.5 L2015.5 934.3 L2018.2 934.3 L2021.0 933.9 L2023.8 933.8 L2026.5 934.9 L2029.2 935.3 L2032.0 935.2 L2034.8 934.4 L2037.5 935.9 L2040.2 934.1 L2043.0 934.8 L2045.8 934.6 L2048.5 934.3 L2051.2 935.9 L2054.0 935.4 L2056.8 934.2 L2059.5 935.0" fill="none" stroke="#111111" stroke-width="5.8" stroke-linejoin="round" stroke-linecap="butt" stroke-dasharray="20.4 8.8"/>
<path clip-path="url(#cd)" d="M1189.5 930.0 L1189.7 928.4 L1190.0 926.1 L1190.3 923.4 L1190.6 920.6 L1190.9 917.7 L1191.2 915.0 L1191.5 912.6 L1191.8 910.4 L1192.1 908.1 L1192.4 905.7 L1192.7 903.1 L1193.0 900.0 L1193.3 896.4 L1193.6 892.4 L1193.9 888.1 L1194.2 883.7 L1194.5 879.3 L1194.8 875.0 L1195.0 870.7 L1195.3 866.1 L1195.6 861.6 L1195.9 857.3 L1196.2 853.3 L1196.5 850.0 L1196.8 847.4 L1197.1 845.4 L1197.4 843.8 L1197.7 842.5 L1198.0 841.1 L1198.2 839.5 L1198.5 837.4 L1198.8 834.9 L1199.1 832.3 L1199.4 830.2 L1199.7 829.0 L1200.0 829.0 L1200.3 830.6 L1200.6 833.5 L1200.9 837.3 L1201.2 841.5 L1201.5 845.7 L1201.8 849.5 L1202.0 852.8 L1202.3 856.0 L1202.6 859.1 L1202.9 862.4 L1203.2 866.0 L1203.5 870.0 L1203.8 874.5 L1204.1 879.4 L1204.4 884.5 L1204.7 889.8 L1205.0 895.1 L1205.2 900.3 L1205.5 906.0 L1205.8 912.5 L1206.1 918.9 L1206.4 924.6 L1206.7 928.8 L1207.0 930.6 L1207.3 929.6 L1207.6 926.3 L1207.9 921.4 L1208.2 915.8 L1208.5 910.2 L1208.8 905.3 L1209.0 901.0 L1209.3 896.7 L1209.6 892.3 L1209.9 888.0 L1210.2 883.9 L1210.5 880.0 L1210.8 876.4 L1211.1 872.9 L1211.3 869.7 L1211.6 866.5 L1211.9 863.3 L1212.2 860.0 L1212.4 856.7 L1212.7 853.6 L1213.0 850.4 L1213.3 847.2 L1213.5 843.7 L1213.8 840.0 L1214.0 835.9 L1214.3 831.6 L1214.5 827.1 L1214.7 822.5 L1215.0 817.9 L1215.2 813.3 L1215.4 808.9 L1215.7 804.4 L1215.9 800.0 L1216.1 795.6 L1216.4 791.1 L1216.6 786.7 L1216.8 782.1 L1217.1 777.3 L1217.3 772.6 L1217.5 768.0 L1217.8 763.7 L1218.0 760.0 L1218.2 756.9 L1218.4 754.2 L1218.6 751.9 L1218.8 749.8 L1219.0 747.7 L1219.2 745.4 L1219.5 742.9 L1219.7 740.5 L1219.9 738.0 L1220.1 735.6 L1220.3 733.1 L1220.5 730.7 L1220.7 728.3 L1220.9 725.8 L1221.1 723.4 L1221.3 720.9 L1221.5 718.5 L1221.8 716.0 L1222.0 712.9 L1222.2 708.8 L1222.4 704.7 L1222.6 701.5 L1222.8 700.1 L1223.0 701.4 L1223.2 705.9 L1223.5 713.2 L1223.7 722.2 L1224.0 732.0 L1224.2 741.9 L1224.5 750.9 L1224.8 759.2 L1225.0 767.4 L1225.2 775.7 L1225.5 784.0 L1225.8 792.2 L1226.0 800.5 L1226.3 810.0 L1226.5 820.9 L1226.8 831.9 L1227.0 841.4 L1227.3 847.9 L1227.5 850.0 L1227.7 846.6 L1228.0 838.8 L1228.2 828.1 L1228.4 815.8 L1228.6 803.5 L1228.8 792.8 L1229.1 783.2 L1229.3 773.7 L1229.5 764.1 L1229.7 754.6 L1229.9 745.1 L1230.2 735.5 L1230.4 724.6 L1230.6 712.1 L1230.8 699.5 L1231.0 688.6 L1231.3 681.0 L1231.5 678.3 L1231.8 681.6 L1232.1 689.8 L1232.3 701.3 L1232.7 714.5 L1233.0 727.6 L1233.2 739.1 L1233.5 749.5 L1233.8 760.1 L1234.1 770.8 L1234.4 781.1 L1234.7 791.0 L1235.0 800.0 L1235.3 808.0 L1235.5 815.3 L1235.8 822.0 L1236.0 828.4 L1236.3 834.8 L1236.5 841.5 L1236.7 848.7 L1237.0 856.2 L1237.2 863.8 L1237.5 871.0 L1237.7 877.5 L1238.0 883.0 L1238.3 887.5 L1238.6 891.4 L1239.0 894.6 L1239.4 897.1 L1239.7 898.9 L1240.0 900.0 L1240.3 900.2 L1240.5 899.3 L1240.8 897.8 L1241.0 895.9 L1241.3 894.0 L1241.5 892.5 L1241.7 891.0 L1242.0 889.4 L1242.2 887.7 L1242.5 886.2 L1242.7 885.2 L1243.0 885.0 L1243.3 886.4 L1243.6 889.4 L1244.0 892.9 L1244.4 895.8 L1244.7 896.9 L1245.0 895.0 L1245.3 889.7 L1245.5 881.7 L1245.8 871.9 L1246.0 861.2 L1246.3 850.5 L1246.5 840.7 L1246.8 831.6 L1247.0 822.6 L1247.2 813.5 L1247.5 804.4 L1247.8 795.4 L1248.0 786.3 L1248.2 775.5 L1248.5 762.5 L1248.7 749.5 L1249.0 738.6 L1249.2 732.1 L1249.5 732.0 L1249.8 739.8 L1250.1 754.0 L1250.4 772.6 L1250.7 793.3 L1251.0 814.0 L1251.2 832.5 L1251.5 850.7 L1251.8 870.5 L1252.1 890.4 L1252.4 908.5 L1252.7 923.3 L1253.0 933.0 L1253.3 936.5 L1253.5 934.9 L1253.8 929.9 L1254.0 923.2 L1254.3 916.5 L1254.5 911.5 L1254.8 907.5 L1255.0 903.1 L1255.2 898.7 L1255.5 894.7 L1255.8 891.7 L1256.0 890.0 L1256.2 890.0 L1256.5 891.4 L1256.8 893.7 L1257.0 896.4 L1257.2 899.2 L1257.5 901.5 L1257.8 903.7 L1258.0 906.1 L1258.2 908.6 L1258.5 910.7 L1258.8 912.3 L1259.0 913.0 L1259.2 912.6 L1259.5 911.4 L1259.8 909.6 L1260.0 907.4 L1260.2 905.3 L1260.5 903.5 L1260.8 901.8 L1261.0 899.9 L1261.2 898.0 L1261.5 896.2 L1261.8 894.9 L1262.0 894.0 L1262.2 893.8 L1262.5 894.1 L1262.8 894.7 L1263.0 895.5 L1263.2 896.4 L1263.5 897.0 L1263.8 897.6 L1264.0 898.3 L1264.3 898.9 L1264.5 899.5 L1264.8 899.9 L1265.0 900.0 L1265.2 899.7 L1265.4 899.2 L1265.6 898.4 L1265.8 897.6 L1266.0 896.7 L1266.2 896.0 L1266.5 895.3 L1266.7 894.6 L1266.9 894.0 L1267.1 893.3 L1267.3 892.6 L1267.5 891.9 L1267.7 891.3 L1267.9 890.6 L1268.1 889.9 L1268.3 889.3 L1268.5 888.6 L1268.7 887.9 L1268.9 887.2 L1269.1 886.6 L1269.3 885.9 L1269.6 885.2 L1269.8 884.6 L1270.0 883.9 L1270.2 883.2 L1270.4 882.5 L1270.6 881.9 L1270.8 881.2 L1271.0 880.5 L1271.2 879.9 L1271.4 879.2 L1271.6 878.5 L1271.8 877.8 L1272.0 877.2 L1272.2 876.5 L1272.5 875.8 L1272.7 875.0 L1272.9 874.1 L1273.1 873.2 L1273.3 872.4 L1273.5 871.9 L1273.7 871.8 L1273.9 872.3 L1274.1 873.2 L1274.4 874.4 L1274.6 875.7 L1274.8 877.0 L1275.1 878.2 L1275.3 879.3 L1275.5 880.4 L1275.8 881.5 L1276.0 882.5 L1276.2 883.6 L1276.5 884.7 L1276.7 885.8 L1276.9 886.8 L1277.2 887.9 L1277.4 889.0 L1277.6 890.0 L1277.8 891.1 L1278.1 892.2 L1278.3 893.3 L1278.5 894.3 L1278.8 895.4 L1279.0 896.5 L1279.2 897.6 L1279.5 899.1 L1279.7 901.0 L1279.9 903.0 L1280.1 904.5 L1280.4 905.0 L1280.6 904.0 L1280.8 901.2 L1281.0 896.8 L1281.2 891.5 L1281.5 885.6 L1281.7 879.8 L1281.9 874.4 L1282.1 869.5 L1282.3 864.5 L1282.5 859.6 L1282.7 854.7 L1282.9 849.7 L1283.2 844.8 L1283.4 839.9 L1283.6 834.9 L1283.8 830.0 L1284.0 825.1 L1284.2 820.1 L1284.4 815.2 L1284.7 810.3 L1284.9 805.3 L1285.1 800.4 L1285.3 795.5 L1285.5 790.5 L1285.7 785.6 L1285.9 779.8 L1286.1 772.9 L1286.4 765.9 L1286.6 760.1 L1286.8 756.4 L1287.0 756.0 L1287.2 759.5 L1287.4 766.3 L1287.7 775.2 L1287.9 785.3 L1288.1 795.3 L1288.3 804.2 L1288.6 812.2 L1288.8 820.3 L1289.0 828.3 L1289.2 836.3 L1289.4 844.4 L1289.7 852.4 L1289.9 861.2 L1290.1 870.9 L1290.3 880.7 L1290.6 889.5 L1290.8 896.4 L1291.0 900.6 L1291.2 901.4 L1291.4 899.4 L1291.7 895.5 L1291.9 890.7 L1292.1 885.9 L1292.3 882.1 L1292.6 879.0 L1292.8 875.9 L1293.0 872.8 L1293.2 869.7 L1293.4 866.6 L1293.7 863.5 L1293.9 860.0 L1294.1 856.0 L1294.3 852.0 L1294.6 848.4 L1294.8 845.9 L1295.0 845.0 L1295.2 845.9 L1295.4 848.4 L1295.7 852.0 L1295.9 856.0 L1296.1 860.0 L1296.3 863.5 L1296.6 866.6 L1296.8 869.7 L1297.0 872.8 L1297.2 875.9 L1297.4 879.0 L1297.7 882.1 L1297.9 885.6 L1298.1 889.7 L1298.3 893.7 L1298.6 897.3 L1298.8 899.7 L1299.0 900.6 L1299.2 899.5 L1299.4 896.8 L1299.6 893.0 L1299.8 888.6 L1300.0 884.3 L1300.2 880.5 L1300.4 877.1 L1300.6 873.8 L1300.8 870.4 L1301.0 867.1 L1301.2 863.7 L1301.4 860.4 L1301.6 857.0 L1301.8 853.7 L1302.0 850.3 L1302.2 846.9 L1302.4 843.6 L1302.6 840.2 L1302.8 836.9 L1303.0 833.5 L1303.2 830.2 L1303.4 826.8 L1303.6 823.5 L1303.8 820.1 L1304.0 816.6 L1304.2 813.0 L1304.4 809.3 L1304.6 805.9 L1304.8 802.7 L1305.0 800.0 L1305.2 797.9 L1305.4 796.3 L1305.7 794.9 L1305.9 793.8 L1306.1 792.6 L1306.4 791.3 L1306.6 789.9 L1306.8 788.4 L1307.1 787.0 L1307.3 785.5 L1307.5 784.1 L1307.8 782.6 L1308.0 781.2 L1308.2 779.8 L1308.4 778.3 L1308.7 776.9 L1308.9 775.4 L1309.1 774.0 L1309.4 771.9 L1309.6 769.2 L1309.8 766.4 L1310.1 764.4 L1310.3 763.8 L1310.5 765.3 L1310.7 769.4 L1310.9 775.6 L1311.1 783.3 L1311.3 791.6 L1311.5 800.0 L1311.8 807.6 L1312.0 815.2 L1312.2 823.3 L1312.4 831.4 L1312.6 838.9 L1312.8 845.3 L1313.0 850.0 L1313.2 852.6 L1313.5 853.4 L1313.7 853.1 L1314.0 852.2 L1314.2 851.3 L1314.5 851.0 L1314.8 851.3 L1315.0 851.9 L1315.2 852.4 L1315.5 852.7 L1315.8 852.7 L1316.0 852.0 L1316.2 850.6 L1316.5 848.6 L1316.8 846.2 L1317.0 843.5 L1317.2 840.9 L1317.5 838.5 L1317.8 835.9 L1318.0 833.0 L1318.2 830.1 L1318.5 827.6 L1318.8 825.7 L1319.0 825.0 L1319.2 825.6 L1319.5 827.2 L1319.8 829.6 L1320.0 832.4 L1320.2 835.1 L1320.5 837.5 L1320.8 840.2 L1321.0 843.6 L1321.2 847.0 L1321.5 849.7 L1321.8 851.0 L1322.0 850.0 L1322.2 846.4 L1322.5 840.6 L1322.8 833.3 L1323.0 825.3 L1323.2 817.3 L1323.5 810.0 L1323.8 802.4 L1324.0 793.7 L1324.3 784.9 L1324.5 777.3 L1324.8 772.0 L1325.0 770.0 L1325.2 772.1 L1325.5 777.6 L1325.7 785.4 L1325.9 794.2 L1326.1 803.1 L1326.3 810.9 L1326.6 817.7 L1326.8 824.5 L1327.0 831.3 L1327.2 838.1 L1327.4 844.9 L1327.7 851.7 L1327.9 859.4 L1328.1 868.1 L1328.3 876.8 L1328.5 884.4 L1328.7 890.0 L1329.0 892.6 L1329.3 891.0 L1329.6 885.7 L1330.0 878.4 L1330.3 870.6 L1330.7 864.0 L1331.0 860.0 L1331.3 858.9 L1331.5 859.5 L1331.8 861.2 L1332.0 863.5 L1332.3 865.8 L1332.5 867.5 L1332.8 869.0 L1333.0 870.7 L1333.2 872.5 L1333.5 874.0 L1333.8 874.9 L1334.0 875.0 L1334.2 874.1 L1334.5 872.3 L1334.8 870.0 L1335.0 867.4 L1335.2 864.8 L1335.5 862.5 L1335.8 860.2 L1336.0 857.6 L1336.3 855.1 L1336.5 852.7 L1336.8 851.0 L1337.0 850.0 L1337.2 850.0 L1337.5 850.8 L1337.7 852.1 L1337.9 853.7 L1338.1 855.3 L1338.3 856.7 L1338.6 857.8 L1338.8 858.9 L1339.0 860.0 L1339.2 861.1 L1339.4 862.2 L1339.7 863.3 L1339.9 864.6 L1340.1 866.0 L1340.3 867.4 L1340.6 868.7 L1340.8 869.6 L1341.0 870.0 L1341.2 869.8 L1341.4 869.0 L1341.6 867.9 L1341.8 866.7 L1342.0 865.4 L1342.2 864.3 L1342.5 863.3 L1342.7 862.3 L1342.9 861.2 L1343.1 860.2 L1343.3 859.4 L1343.5 858.6 L1343.7 858.1 L1344.0 857.8 L1344.2 857.6 L1344.4 857.4 L1344.6 857.3 L1344.8 857.2 L1346.0 847.3 L1347.6 861.9 L1349.2 865.3 L1350.8 881.0 L1352.1 869.4 L1353.4 864.5 L1354.7 848.2 L1356.1 845.2 L1357.4 829.0 L1358.7 826.3 L1360.0 813.5 L1361.5 826.5 L1363.1 834.4 L1364.6 847.3 L1365.8 848.4 L1367.0 860.1 L1368.3 862.0 L1369.5 871.9 L1370.7 875.0 L1371.9 871.2 L1373.2 856.2 L1374.4 855.6 L1375.7 842.5 L1376.9 838.0 L1378.1 833.6 L1379.3 839.0 L1380.6 833.7 L1381.8 838.9 L1383.0 835.0 L1384.3 833.2 L1385.6 823.3 L1386.8 821.4 L1388.1 812.7 L1389.4 813.1 L1390.7 804.3 L1392.2 818.1 L1393.8 820.4 L1395.3 835.0 L1396.5 822.6 L1397.7 820.0 L1399.0 805.4 L1400.2 805.1 L1401.4 792.0 L1402.6 798.1 L1403.9 798.0 L1405.1 805.6 L1406.4 804.6 L1407.6 810.5 L1408.9 806.0 L1410.2 806.7 L1411.5 800.8 L1412.9 804.0 L1414.2 795.8 L1415.5 797.9 L1416.8 792.0 L1418.1 789.2 L1419.4 780.4 L1420.7 781.4 L1422.1 770.4 L1423.4 769.8 L1424.7 760.2 L1426.0 758.2 L1427.3 757.3 L1428.6 766.5 L1429.9 762.1 L1431.3 771.4 L1432.6 768.4 L1433.9 777.7 L1435.2 776.7 L1436.4 785.0 L1437.7 784.1 L1438.9 796.1 L1440.2 797.0 L1441.4 804.3 L1442.9 785.1 L1444.5 773.3 L1446.0 752.0 L1447.3 754.9 L1448.7 746.2 L1450.0 753.3 L1451.3 745.8 L1452.7 750.1 L1454.0 743.5 L1455.4 748.5 L1456.7 746.0 L1457.9 750.5 L1459.2 747.9 L1460.4 754.1 L1461.7 751.0 L1462.9 755.2 L1464.1 753.7 L1465.4 761.2 L1466.6 755.8 L1467.8 762.2 L1469.1 757.5 L1470.3 766.2 L1471.5 759.9 L1472.7 766.5 L1474.0 763.0 L1475.2 767.5 L1476.7 751.0 L1478.3 745.1 L1479.8 730.6 L1481.1 737.9 L1482.4 737.2 L1483.7 748.9 L1485.1 749.1 L1486.4 760.9 L1487.7 759.7 L1489.0 767.5 L1490.3 760.4 L1491.6 759.3 L1492.8 749.7 L1494.1 750.5 L1495.4 739.3 L1496.7 736.7 L1498.0 724.1 L1499.3 720.7 L1500.6 708.3 L1502.0 704.9 L1503.3 690.0 L1504.6 687.0 L1505.9 675.3 L1507.1 686.3 L1508.3 686.6 L1509.6 697.4 L1510.8 700.8 L1512.0 709.0 L1513.2 705.8 L1514.5 710.7 L1515.7 705.3 L1516.9 709.2 L1518.2 706.1 L1519.4 709.7 L1520.6 703.2 L1521.8 708.9 L1523.1 702.1 L1524.3 706.0 L1525.9 704.9 L1527.4 712.8 L1529.0 712.2 L1530.2 707.4 L1531.4 692.9 L1532.6 689.7 L1533.8 673.8 L1535.0 669.2 L1536.3 666.9 L1537.7 673.1 L1539.0 669.8 L1540.4 675.4 L1541.8 671.1 L1543.1 676.3 L1544.5 671.5 L1545.8 675.3 L1547.2 671.5 L1548.6 679.7 L1550.0 676.7 L1551.2 673.5 L1552.4 660.4 L1553.7 660.6 L1554.9 649.6 L1556.1 646.0 L1557.4 643.0 L1558.7 650.1 L1559.9 645.5 L1561.2 650.6 L1562.5 644.6 L1563.8 649.0 L1565.3 636.7 L1566.9 632.2 L1568.4 618.4 L1570.0 633.7 L1571.5 646.0 L1572.7 646.7 L1573.9 635.1 L1575.2 637.3 L1576.4 626.8 L1577.6 627.6 L1578.8 625.6 L1580.1 632.8 L1581.3 631.0 L1582.6 637.9 L1583.8 636.8 L1585.0 645.0 L1586.3 642.4 L1587.5 649.3 L1588.8 649.2 L1590.0 655.2 L1591.5 638.4 L1593.0 627.2 L1594.5 609.2 L1595.7 617.1 L1597.0 616.3 L1598.2 625.7 L1599.5 627.4 L1600.7 633.7 L1601.9 626.8 L1603.1 630.3 L1604.4 621.7 L1605.6 624.3 L1606.8 618.4 L1608.1 618.8 L1609.4 608.1 L1610.7 613.2 L1611.9 602.5 L1613.2 605.5 L1614.5 600.0 L1616.0 611.1 L1617.5 616.8 L1619.0 627.6 L1620.3 620.5 L1621.6 623.0 L1622.9 615.3 L1624.2 619.5 L1625.5 609.9 L1626.8 609.2 L1628.0 608.5 L1629.3 615.5 L1630.5 610.4 L1631.8 620.1 L1633.0 618.4 L1634.3 618.4 L1635.6 609.0 L1636.9 610.2 L1638.3 599.8 L1639.6 601.2 L1640.9 590.7 L1642.2 590.7 L1643.4 598.7 L1644.6 618.2 L1645.9 622.0 L1647.1 641.6 L1648.3 649.0 L1649.5 645.0 L1650.8 632.4 L1652.0 632.6 L1653.3 619.3 L1654.5 615.3 L1655.7 610.5 L1656.9 612.4 L1658.2 602.0 L1659.4 607.2 L1660.6 600.0 L1662.1 607.9 L1663.7 609.7 L1665.2 618.4 L1666.7 612.2 L1668.3 612.6 L1669.8 606.0 L1671.1 611.9 L1672.4 606.4 L1673.7 613.0 L1674.9 610.0 L1676.2 616.5 L1677.5 615.3 L1678.8 626.4 L1680.1 628.2 L1681.3 640.3 L1682.6 644.0 L1683.9 655.9 L1685.2 661.4 L1686.4 658.8 L1687.6 646.0 L1688.9 644.8 L1690.1 632.7 L1691.3 627.6 L1692.6 621.6 L1693.9 625.4 L1695.2 617.2 L1696.6 621.5 L1697.9 615.0 L1699.2 616.0 L1700.5 612.2 L1702.0 627.3 L1703.6 631.7 L1705.1 646.0 L1706.3 632.1 L1707.6 626.3 L1708.8 609.3 L1710.1 604.6 L1711.3 590.7 L1712.6 598.9 L1713.9 600.8 L1715.2 613.0 L1716.4 613.3 L1717.7 627.1 L1719.0 630.7 L1720.2 632.0 L1721.4 624.1 L1722.7 626.9 L1723.9 617.6 L1725.1 618.4 L1726.7 625.2 L1728.2 640.0 L1729.4 635.2 L1730.6 641.8 L1731.9 634.9 L1733.1 641.2 L1734.3 636.8 L1735.9 652.3 L1737.4 660.3 L1739.0 676.7 L1740.2 669.2 L1741.4 672.6 L1742.6 662.6 L1743.8 666.0 L1745.0 658.3 L1746.6 674.0 L1748.1 678.6 L1749.7 692.0 L1751.2 685.3 L1752.8 685.1 L1754.3 676.7 L1755.6 676.0 L1756.9 667.2 L1758.2 671.9 L1759.4 663.5 L1760.7 667.9 L1762.0 661.4 L1763.2 672.8 L1764.4 674.3 L1765.7 686.3 L1766.9 688.9 L1768.1 698.2 L1769.4 696.4 L1770.7 700.3 L1772.0 700.6 L1773.3 708.5 L1774.7 703.9 L1776.0 708.4 L1777.4 704.9 L1778.7 710.8 L1780.1 701.8 L1781.5 707.2 L1782.8 701.0 L1784.2 703.0 L1785.5 709.4 L1786.9 724.7 L1788.2 732.6 L1789.6 729.5 L1790.9 718.9 L1792.3 719.9 L1793.6 709.7 L1795.0 708.4 L1796.3 712.1 L1797.7 726.4 L1799.0 728.2 L1800.3 738.0 L1801.7 731.9 L1803.0 737.8 L1804.3 730.4 L1805.7 730.0 L1807.1 739.2 L1808.4 756.7 L1809.7 750.0 L1811.1 752.3 L1812.4 744.8 L1813.7 743.3 L1815.1 739.0 L1816.4 741.9 L1817.8 731.3 L1819.1 735.1 L1820.5 730.0 L1821.8 736.6 L1823.2 737.8 L1824.5 746.7 L1825.8 748.7 L1827.2 758.4 L1828.5 761.9 L1829.8 773.1 L1831.2 778.2 L1832.6 783.2 L1833.9 778.8 L1835.3 784.1 L1836.6 779.6 L1838.0 783.6 L1839.3 780.4 L1840.7 782.4 L1842.0 778.0 L1843.3 780.1 L1844.7 772.5 L1846.0 775.6 L1847.3 775.8 L1848.7 787.7 L1850.0 784.3 L1851.4 795.1 L1852.7 797.0 L1854.0 812.6 L1855.4 819.8 L1856.7 837.4 L1858.0 829.2 L1859.4 831.8 L1860.8 820.1 L1862.1 820.3 L1863.5 809.1 L1864.8 807.8 L1866.2 804.1 L1867.5 810.6 L1868.8 807.0 L1870.2 811.0 L1871.6 806.9 L1872.9 810.5 L1874.2 805.3 L1875.6 811.8 L1877.0 805.9 L1878.3 810.4 L1879.7 802.5 L1881.0 805.0 L1882.3 815.4 L1883.7 833.5 L1885.0 837.9 L1886.3 853.5 L1887.6 851.9 L1889.0 858.6 L1890.3 855.7 L1891.7 861.7 L1893.0 857.7 L1894.3 863.6 L1895.7 859.5 L1897.0 864.2 L1898.3 857.6 L1899.7 862.3 L1901.0 850.4 L1902.3 854.5 L1903.7 844.9 L1905.0 845.4 L1906.4 847.6 L1907.8 857.5 L1909.1 856.4 L1910.5 864.2 L1911.8 854.4 L1913.2 855.0 L1914.5 845.3 L1915.9 845.2 L1917.2 837.4 L1918.5 844.4 L1919.9 839.2 L1921.2 849.5 L1922.6 848.1 L1923.9 856.0 L1925.3 852.6 L1926.6 858.9 L1927.9 863.4 L1929.3 878.7 L1930.7 880.2 L1932.0 891.0 L1933.2 886.5 L1934.4 891.9 L1935.7 885.2 L1936.9 887.3 L1938.1 880.2 L1939.3 886.7 L1940.5 876.5 L1941.7 881.6 L1943.0 873.5 L1944.2 878.7 L1945.4 875.0 L1946.8 881.4 L1948.1 880.3 L1949.5 889.0 L1950.8 886.7 L1952.2 896.4 L1953.5 896.5 L1954.7 900.1 L1956.0 893.3 L1957.2 897.7 L1958.4 890.3 L1959.6 895.0 L1960.9 890.6 L1962.1 895.7 L1963.3 887.1 L1964.5 893.2 L1965.8 887.5 L1967.0 888.4 L1968.2 885.4 L1969.4 893.5 L1970.7 889.3 L1971.9 896.4 L1973.1 891.8 L1974.3 900.1 L1975.5 894.2 L1976.7 901.7 L1978.0 895.7 L1979.2 905.0 L1980.4 901.9 L1981.7 905.8 L1983.1 903.5 L1984.4 912.3 L1985.8 906.7 L1987.1 914.5 L1988.4 909.8 L1989.8 917.7 L1991.1 918.0 L1992.3 919.7 L1993.6 915.5 L1994.8 920.0 L1996.0 913.2 L1997.2 917.9 L1998.5 912.3 L1999.7 916.7 L2000.9 910.5 L2002.1 917.3 L2003.4 910.5 L2004.6 912.6 L2005.8 909.0 L2007.0 915.1 L2008.3 910.9 L2009.5 916.4 L2010.7 913.3 L2011.9 918.7 L2013.1 914.4 L2014.3 918.1 L2015.6 915.2 L2016.8 920.0 L2018.0 918.0 L2019.2 921.6 L2020.4 914.9 L2021.6 918.5 L2022.8 912.6 L2024.0 919.9 L2025.2 911.1 L2026.4 916.7 L2027.6 912.9 L2028.8 917.1 L2030.0 914.0 L2031.2 917.9 L2032.5 909.8 L2033.7 916.4 L2035.0 909.7 L2036.2 914.0 L2037.5 907.1 L2038.7 912.1 L2039.9 906.5 L2041.2 912.8 L2042.4 904.4 L2043.7 911.3 L2044.9 907.2 L2046.2 913.9 L2047.5 908.1 L2048.7 918.6 L2050.0 918.0 L2051.5 921.5 L2053.0 920.7 L2054.5 925.4 L2056.0 926.0 L2057.8 930.0 L2059.5 931.0" fill="none" stroke="#d62728" stroke-width="5.8" stroke-linejoin="round" stroke-linecap="square"/>
<path clip-path="url(#cd)" d="M1189.5 815.0 L1189.6 808.9 L1189.7 800.5 L1189.9 790.5 L1190.1 779.9 L1190.3 769.4 L1190.5 760.0 L1190.7 751.1 L1190.9 741.9 L1191.2 732.9 L1191.4 724.6 L1191.7 717.4 L1192.0 712.0 L1192.3 708.5 L1192.6 706.5 L1193.0 705.8 L1193.4 705.9 L1193.7 706.4 L1194.0 707.0 L1194.3 708.0 L1194.5 709.6 L1194.8 711.7 L1195.0 714.1 L1195.3 716.4 L1195.5 718.5 L1195.7 720.4 L1196.0 722.4 L1196.2 724.3 L1196.5 726.3 L1196.7 728.2 L1197.0 730.0 L1197.3 731.8 L1197.5 733.5 L1197.8 735.2 L1198.0 736.9 L1198.3 738.5 L1198.6 740.2 L1198.8 741.9 L1199.1 743.6 L1199.3 745.4 L1199.6 747.1 L1199.9 748.8 L1200.1 750.5 L1200.4 753.0 L1200.6 756.5 L1200.9 760.0 L1201.1 762.5 L1201.4 763.1 L1201.7 760.7 L1202.1 755.6 L1202.5 748.7 L1202.9 739.7 L1203.3 728.7 L1203.7 715.5 L1204.0 700.0 L1204.2 680.7 L1204.4 657.4 L1204.5 631.8 L1204.7 605.9 L1204.8 581.4 L1205.0 560.0 L1205.2 541.1 L1205.5 523.0 L1205.7 506.2 L1206.0 491.5 L1206.2 479.2 L1206.5 470.0 L1206.8 463.6 L1207.0 459.5 L1207.2 457.9 L1207.5 459.0 L1207.8 463.0 L1208.0 470.0 L1208.2 482.9 L1208.5 502.1 L1208.8 524.2 L1209.0 545.7 L1209.2 563.1 L1209.5 573.0 L1209.8 574.5 L1210.0 570.1 L1210.2 561.7 L1210.5 551.0 L1210.8 539.8 L1211.0 530.0 L1211.2 520.3 L1211.5 509.0 L1211.7 497.3 L1212.0 486.2 L1212.2 476.7 L1212.5 470.0 L1212.8 465.2 L1213.2 461.3 L1213.5 459.1 L1213.9 459.3 L1214.2 462.7 L1214.5 470.0 L1214.8 482.5 L1215.0 499.8 L1215.2 520.3 L1215.4 542.4 L1215.6 564.5 L1215.8 585.0 L1216.0 604.4 L1216.2 624.0 L1216.4 643.6 L1216.6 663.0 L1216.8 681.9 L1217.0 700.0 L1217.2 717.2 L1217.4 733.6 L1217.6 749.6 L1217.8 765.2 L1218.0 780.9 L1218.2 796.9 L1218.5 814.7 L1218.6 834.5 L1218.8 854.4 L1219.0 872.2 L1219.3 886.0 L1219.5 893.7 L1219.8 894.0 L1220.0 888.2 L1220.3 878.4 L1220.6 866.5 L1221.0 854.7 L1221.2 844.9 L1221.5 835.8 L1221.8 825.7 L1222.2 815.6 L1222.4 806.6 L1222.7 799.7 L1223.0 796.0 L1223.2 796.2 L1223.5 799.6 L1223.7 805.2 L1223.9 811.8 L1224.1 818.4 L1224.3 824.0 L1224.6 828.7 L1224.8 833.3 L1225.0 838.0 L1225.2 842.7 L1225.4 847.3 L1225.7 852.0 L1225.9 856.8 L1226.1 861.7 L1226.3 866.7 L1226.6 871.5 L1226.8 876.0 L1227.0 880.0 L1227.2 883.5 L1227.4 886.4 L1227.7 889.1 L1227.9 891.7 L1228.1 894.2 L1228.3 896.9 L1228.6 899.7 L1228.8 902.5 L1229.0 905.3 L1229.2 908.1 L1229.4 910.9 L1229.7 913.7 L1229.9 917.8 L1230.1 923.3 L1230.3 928.9 L1230.5 932.9 L1230.8 934.0 L1231.0 930.6 L1231.2 921.8 L1231.5 908.4 L1231.7 892.1 L1232.0 874.4 L1232.2 856.6 L1232.5 840.3 L1232.8 825.8 L1233.0 812.0 L1233.3 798.3 L1233.5 783.8 L1233.8 767.9 L1234.0 750.0 L1234.2 729.5 L1234.4 707.0 L1234.6 683.1 L1234.8 658.5 L1235.0 633.9 L1235.2 610.0 L1235.5 585.0 L1235.7 558.1 L1235.9 531.2 L1236.1 506.3 L1236.3 485.2 L1236.5 470.0 L1236.7 461.9 L1237.0 459.6 L1237.2 461.2 L1237.5 464.8 L1237.7 468.4 L1238.0 470.0 L1238.2 470.0 L1238.5 470.0 L1238.8 470.0 L1239.0 470.0 L1239.2 470.0 L1239.5 470.0 L1239.7 469.2 L1240.0 467.6 L1240.2 465.9 L1240.5 465.2 L1240.7 466.2 L1241.0 470.0 L1241.3 477.1 L1241.6 486.9 L1241.9 498.4 L1242.2 510.9 L1242.5 523.4 L1242.8 535.0 L1243.0 546.4 L1243.4 558.3 L1243.7 570.3 L1244.0 581.7 L1244.2 591.8 L1244.5 600.0 L1244.7 605.9 L1245.0 610.0 L1245.2 612.8 L1245.4 615.0 L1245.5 617.2 L1245.8 620.0 L1246.0 623.8 L1246.2 628.0 L1246.4 632.3 L1246.6 636.1 L1246.8 638.8 L1247.0 640.0 L1247.2 639.3 L1247.4 637.0 L1247.7 633.7 L1247.9 629.8 L1248.1 626.0 L1248.3 622.7 L1248.6 619.8 L1248.8 616.9 L1249.0 614.0 L1249.2 611.1 L1249.4 608.2 L1249.7 605.3 L1249.9 601.2 L1250.1 595.5 L1250.3 589.8 L1250.5 585.7 L1250.7 584.6 L1251.0 588.0 L1251.3 597.0 L1251.6 610.6 L1252.0 627.2 L1252.3 645.3 L1252.7 663.4 L1253.0 680.0 L1253.3 697.1 L1253.7 716.3 L1254.0 735.6 L1254.4 752.7 L1254.7 765.5 L1255.0 772.0 L1255.3 770.7 L1255.5 763.0 L1255.7 751.1 L1255.9 737.0 L1256.1 722.9 L1256.2 711.0 L1256.5 701.0 L1256.7 691.1 L1256.9 681.3 L1257.1 671.3 L1257.3 660.9 L1257.5 650.0 L1257.7 638.5 L1257.9 626.4 L1258.1 614.0 L1258.3 601.4 L1258.5 588.8 L1258.8 576.4 L1259.0 562.7 L1259.2 547.3 L1259.4 531.9 L1259.6 518.2 L1259.8 507.9 L1260.0 502.7 L1260.2 503.7 L1260.5 509.9 L1260.7 519.4 L1261.0 530.6 L1261.2 541.8 L1261.5 551.4 L1261.8 559.4 L1262.0 567.4 L1262.3 575.4 L1262.5 583.4 L1262.8 591.6 L1263.0 600.0 L1263.2 608.6 L1263.5 617.4 L1263.7 626.4 L1263.9 635.4 L1264.1 644.4 L1264.3 653.3 L1264.6 662.2 L1264.8 671.1 L1265.0 680.0 L1265.2 688.9 L1265.4 697.8 L1265.7 706.7 L1265.9 715.8 L1266.1 725.3 L1266.3 734.7 L1266.5 743.9 L1266.8 752.4 L1267.0 760.0 L1267.2 766.4 L1267.5 771.9 L1267.7 776.8 L1268.0 781.3 L1268.2 785.9 L1268.5 790.8 L1268.7 795.9 L1269.0 801.0 L1269.2 806.1 L1269.4 811.3 L1269.7 816.4 L1269.9 821.5 L1270.2 827.4 L1270.4 834.1 L1270.7 840.8 L1270.9 846.6 L1271.2 850.7 L1271.4 852.3 L1271.7 850.7 L1271.9 846.6 L1272.2 840.8 L1272.4 834.1 L1272.7 827.4 L1272.9 821.5 L1273.2 816.4 L1273.4 811.3 L1273.7 806.2 L1274.0 801.0 L1274.2 795.9 L1274.5 790.8 L1274.7 785.5 L1275.0 780.1 L1275.2 774.7 L1275.5 769.5 L1275.8 764.5 L1276.0 760.0 L1276.2 756.0 L1276.5 752.5 L1276.7 749.3 L1276.9 746.3 L1277.1 743.2 L1277.3 740.0 L1277.6 736.7 L1277.8 733.3 L1278.0 730.0 L1278.2 726.7 L1278.4 723.3 L1278.7 720.0 L1278.9 716.9 L1279.1 714.0 L1279.3 711.1 L1279.6 708.0 L1279.8 704.4 L1280.0 700.0 L1280.2 694.7 L1280.4 688.7 L1280.7 682.2 L1280.9 675.5 L1281.1 668.8 L1281.3 662.3 L1281.6 656.0 L1281.8 649.7 L1282.0 643.4 L1282.2 637.1 L1282.4 630.8 L1282.7 624.5 L1282.9 617.4 L1283.1 609.3 L1283.3 601.2 L1283.5 594.0 L1283.8 588.9 L1284.0 586.8 L1284.2 588.4 L1284.5 592.9 L1284.8 599.5 L1285.0 607.1 L1285.3 614.6 L1285.6 621.2 L1285.8 626.9 L1286.1 632.7 L1286.3 638.4 L1286.6 644.1 L1286.9 649.9 L1287.1 655.6 L1287.4 663.2 L1287.6 673.2 L1287.9 683.1 L1288.1 690.7 L1288.4 693.8 L1288.7 690.0 L1289.0 677.4 L1289.4 657.4 L1289.8 632.8 L1290.2 606.5 L1290.6 581.3 L1291.0 560.0 L1291.4 541.6 L1291.7 523.7 L1292.1 506.9 L1292.4 491.9 L1292.7 479.3 L1293.0 470.0 L1293.3 464.8 L1293.5 463.3 L1293.7 464.4 L1293.9 466.7 L1294.1 469.0 L1294.3 470.0 L1294.6 470.0 L1294.8 470.0 L1295.0 470.0 L1295.2 470.0 L1295.4 470.0 L1295.7 470.0 L1295.9 468.7 L1296.1 465.7 L1296.3 462.8 L1296.5 461.5 L1296.8 463.3 L1297.0 470.0 L1297.2 482.5 L1297.5 499.8 L1297.7 520.3 L1298.0 542.4 L1298.2 564.5 L1298.5 585.0 L1298.8 605.0 L1299.0 626.0 L1299.3 647.0 L1299.5 667.0 L1299.8 685.0 L1300.0 700.0 L1300.2 711.3 L1300.4 719.5 L1300.6 725.8 L1300.8 731.0 L1301.0 736.3 L1301.2 742.5 L1301.5 750.7 L1301.7 760.3 L1301.9 770.0 L1302.1 778.2 L1302.3 783.7 L1302.5 785.0 L1302.7 781.3 L1303.0 773.4 L1303.2 762.8 L1303.5 750.8 L1303.7 738.8 L1304.0 728.2 L1304.2 717.9 L1304.5 706.6 L1304.8 695.3 L1305.0 685.0 L1305.2 676.7 L1305.5 671.4 L1305.8 669.7 L1306.0 671.0 L1306.2 674.2 L1306.5 678.4 L1306.8 682.7 L1307.0 685.9 L1307.2 688.4 L1307.5 690.8 L1307.8 693.2 L1308.0 695.6 L1308.2 698.0 L1308.5 700.5 L1308.8 703.2 L1309.0 706.3 L1309.3 709.4 L1309.5 712.1 L1309.8 714.1 L1310.0 715.0 L1310.2 714.6 L1310.4 713.0 L1310.6 710.8 L1310.8 708.1 L1311.0 705.5 L1311.2 703.2 L1311.5 701.3 L1311.7 699.3 L1311.9 697.4 L1312.1 695.4 L1312.3 693.5 L1312.5 691.5 L1312.7 689.5 L1312.9 687.6 L1313.1 685.6 L1313.3 683.7 L1313.5 681.7 L1313.8 679.8 L1314.0 677.5 L1314.2 674.8 L1314.4 672.1 L1314.6 669.8 L1314.8 668.3 L1315.0 668.0 L1315.2 669.2 L1315.4 671.6 L1315.7 674.8 L1315.9 678.5 L1316.1 682.1 L1316.3 685.3 L1316.6 688.2 L1316.8 691.1 L1317.0 694.0 L1317.2 696.9 L1317.4 699.8 L1317.7 702.7 L1317.9 705.6 L1318.1 708.5 L1318.3 711.4 L1318.6 714.3 L1318.8 717.2 L1319.0 720.0 L1319.2 722.8 L1319.4 725.5 L1319.7 728.2 L1319.9 730.9 L1320.1 733.6 L1320.3 736.3 L1320.6 739.0 L1320.8 741.7 L1321.0 744.4 L1321.2 747.1 L1321.4 749.8 L1321.7 752.5 L1321.9 755.6 L1322.1 759.0 L1322.3 762.5 L1322.6 765.5 L1322.8 767.8 L1323.0 768.8 L1323.2 768.3 L1323.4 766.7 L1323.7 764.2 L1323.9 761.3 L1324.1 758.4 L1324.3 755.9 L1324.6 753.7 L1324.8 751.6 L1325.0 749.4 L1325.2 747.2 L1325.4 745.1 L1325.7 742.9 L1325.9 740.8 L1326.1 738.6 L1326.3 736.4 L1326.5 734.3 L1326.8 732.1 L1327.0 730.0 L1327.2 727.9 L1327.5 725.8 L1327.7 723.7 L1328.0 721.6 L1328.2 719.5 L1328.5 717.4 L1328.8 715.1 L1329.0 712.5 L1329.3 710.0 L1329.5 707.7 L1329.8 705.9 L1330.0 704.8 L1330.2 704.6 L1330.4 705.2 L1330.6 706.2 L1330.8 707.5 L1331.0 708.8 L1331.2 709.9 L1331.5 711.2 L1331.7 713.2 L1331.9 715.1 L1332.1 716.5 L1332.3 716.6 L1332.5 715.0 L1332.7 711.2 L1332.9 705.7 L1333.1 698.9 L1333.3 691.6 L1333.5 684.2 L1333.8 677.5 L1334.0 671.1 L1334.2 664.5 L1334.4 658.0 L1334.6 651.6 L1334.8 645.5 L1335.0 640.0 L1335.2 635.1 L1335.5 630.7 L1335.7 626.7 L1336.0 622.9 L1336.2 619.0 L1336.5 615.0 L1336.8 610.5 L1337.0 605.5 L1337.3 600.5 L1337.5 595.9 L1337.8 592.3 L1338.0 590.0 L1338.2 589.4 L1338.4 590.1 L1338.6 591.7 L1338.8 593.8 L1339.0 595.9 L1339.2 597.5 L1339.5 598.8 L1339.7 600.0 L1339.9 601.2 L1340.1 602.5 L1340.3 603.8 L1340.5 605.0 L1340.7 606.2 L1340.9 607.5 L1341.1 608.8 L1341.3 610.0 L1341.5 611.2 L1341.8 612.5 L1342.0 613.5 L1342.2 614.3 L1342.4 615.0 L1342.6 616.1 L1342.8 617.6 L1343.0 620.0 L1343.3 623.7 L1343.5 628.5 L1343.8 633.9 L1344.1 639.2 L1344.3 643.7 L1344.5 646.9 L1346.0 678.4 L1347.6 677.3 L1349.2 681.4 L1350.7 700.0 L1352.3 723.9 L1353.8 743.0 L1355.4 755.1 L1357.0 764.4 L1358.5 754.4 L1360.0 732.2 L1361.5 721.4 L1363.0 714.0 L1364.5 718.2 L1366.0 712.2 L1367.6 723.7 L1369.1 722.5 L1370.7 733.7 L1372.2 744.2 L1373.8 761.3 L1375.0 750.3 L1376.3 748.3 L1377.5 735.3 L1378.8 731.9 L1380.0 721.4 L1381.2 726.2 L1382.4 721.9 L1383.6 729.1 L1384.8 723.3 L1386.0 727.5 L1387.5 713.5 L1389.0 706.0 L1390.3 708.8 L1391.5 722.9 L1392.8 724.5 L1394.0 735.2 L1395.3 739.8 L1396.5 730.1 L1397.7 716.2 L1399.0 711.0 L1400.2 692.3 L1401.4 684.5 L1402.6 701.6 L1403.9 731.3 L1405.1 746.7 L1406.4 774.9 L1407.6 792.0 L1409.0 804.3 L1410.6 785.7 L1412.1 778.4 L1413.7 761.3 L1415.0 769.1 L1416.2 771.2 L1417.5 781.6 L1418.7 783.4 L1420.0 792.0 L1421.2 778.7 L1422.4 772.3 L1423.6 752.6 L1424.8 747.4 L1426.0 733.7 L1427.2 737.5 L1428.5 730.5 L1429.7 736.6 L1431.0 729.5 L1432.2 733.7 L1433.5 726.8 L1434.8 728.9 L1436.1 719.1 L1437.5 720.5 L1438.8 709.8 L1440.1 708.7 L1441.4 703.0 L1442.7 703.0 L1443.9 691.2 L1445.2 694.2 L1446.5 682.8 L1447.7 685.0 L1449.0 678.4 L1450.3 690.9 L1451.6 697.6 L1452.8 715.1 L1454.1 717.0 L1455.4 734.3 L1456.7 743.0 L1457.9 742.6 L1459.2 734.0 L1460.4 737.9 L1461.7 729.2 L1462.9 727.5 L1464.1 724.8 L1465.3 732.1 L1466.6 728.1 L1467.8 734.2 L1469.0 733.7 L1470.2 723.6 L1471.5 706.2 L1472.7 701.6 L1474.0 682.6 L1475.2 675.3 L1476.5 669.7 L1477.8 675.9 L1479.1 669.1 L1480.3 672.3 L1481.6 663.1 L1482.9 666.0 L1484.4 678.5 L1486.0 698.4 L1487.5 712.2 L1488.7 709.8 L1489.9 699.1 L1491.2 703.7 L1492.4 692.9 L1493.6 690.7 L1494.9 695.8 L1496.2 709.2 L1497.5 710.2 L1498.9 722.5 L1500.2 723.6 L1501.5 738.8 L1502.8 743.0 L1504.1 736.8 L1505.4 724.1 L1506.7 719.8 L1507.9 704.4 L1509.2 701.3 L1510.5 690.7 L1511.8 697.4 L1513.1 697.3 L1514.3 710.3 L1515.6 708.6 L1516.9 719.1 L1518.2 721.4 L1519.4 730.9 L1520.6 730.7 L1521.9 741.5 L1523.1 743.7 L1524.3 752.0 L1525.5 743.3 L1526.8 740.5 L1528.0 730.2 L1529.3 727.6 L1530.5 718.3 L1531.7 724.3 L1533.0 722.3 L1534.2 732.6 L1535.4 729.9 L1536.7 742.2 L1537.9 740.0 L1539.1 748.1 L1540.3 747.1 L1541.6 757.1 L1542.8 758.2 L1544.1 755.1 L1545.4 744.2 L1546.7 742.8 L1548.1 729.9 L1549.4 730.2 L1550.7 719.2 L1552.0 715.2 L1553.3 727.0 L1554.6 747.4 L1555.9 738.5 L1557.2 738.6 L1558.4 723.9 L1559.7 722.2 L1561.0 711.4 L1562.3 707.5 L1563.8 727.2 L1565.4 754.3 L1566.9 772.0 L1568.1 766.1 L1569.3 753.2 L1570.6 750.5 L1571.8 733.7 L1573.0 729.0 L1574.5 736.0 L1576.1 752.6 L1577.6 759.7 L1579.2 750.1 L1580.7 732.8 L1582.3 726.0 L1583.5 728.0 L1584.7 737.6 L1586.0 735.9 L1587.2 746.0 L1588.4 747.4 L1589.6 741.4 L1590.8 728.5 L1592.1 728.2 L1593.3 715.3 L1594.5 710.5 L1596.1 714.6 L1597.6 731.0 L1599.2 735.1 L1600.4 734.4 L1601.6 722.3 L1602.9 724.7 L1604.1 716.2 L1605.3 713.6 L1606.5 716.1 L1607.7 726.7 L1609.0 724.5 L1610.2 736.9 L1611.4 738.2 L1612.6 744.0 L1613.9 739.9 L1615.1 749.0 L1616.4 744.9 L1617.6 750.5 L1618.8 740.5 L1620.0 736.4 L1621.3 722.5 L1622.5 717.7 L1623.7 707.5 L1625.2 706.7 L1626.8 695.3 L1628.3 695.2 L1629.6 695.5 L1630.9 703.8 L1632.2 699.5 L1633.4 708.9 L1634.7 703.9 L1636.0 710.5 L1637.2 700.8 L1638.5 699.8 L1639.7 688.8 L1641.0 688.4 L1642.2 679.8 L1643.4 688.0 L1644.6 687.4 L1645.9 698.3 L1647.1 698.6 L1648.3 707.5 L1649.6 702.2 L1650.9 707.0 L1652.2 700.4 L1653.4 706.9 L1654.7 699.7 L1656.0 701.3 L1657.3 692.7 L1658.6 693.2 L1659.9 685.0 L1661.3 686.5 L1662.6 673.8 L1663.9 674.2 L1665.2 667.5 L1666.4 679.7 L1667.7 685.7 L1668.9 702.0 L1670.2 704.9 L1671.4 719.8 L1672.6 711.7 L1673.8 710.8 L1675.1 698.6 L1676.3 698.3 L1677.5 689.0 L1678.8 691.8 L1680.1 684.2 L1681.3 688.4 L1682.6 679.2 L1683.9 683.5 L1685.2 679.8 L1686.7 688.7 L1688.3 690.4 L1689.8 701.3 L1691.3 691.2 L1692.9 691.5 L1694.4 683.0 L1695.6 691.5 L1696.8 693.4 L1698.1 706.7 L1699.3 707.5 L1700.5 716.7 L1701.7 710.4 L1703.0 711.0 L1704.2 703.8 L1705.5 704.0 L1706.7 698.2 L1708.0 699.4 L1709.3 691.4 L1710.6 692.6 L1711.8 685.3 L1713.1 687.5 L1714.4 683.0 L1715.9 694.3 L1717.5 697.7 L1719.0 710.5 L1720.2 707.8 L1721.4 712.4 L1722.7 707.1 L1723.9 711.1 L1725.1 707.5 L1726.4 715.9 L1727.7 714.4 L1729.0 723.9 L1730.4 725.4 L1731.7 733.9 L1733.0 733.8 L1734.3 741.3 L1735.6 735.5 L1736.9 735.8 L1738.2 726.0 L1739.4 726.5 L1740.7 717.4 L1742.0 716.7 L1743.3 712.9 L1744.6 721.3 L1745.8 715.5 L1747.1 722.7 L1748.4 715.0 L1749.7 719.8 L1750.9 714.2 L1752.1 721.7 L1753.4 712.3 L1754.6 719.2 L1755.8 713.6 L1757.2 721.0 L1758.6 718.5 L1760.0 724.5 L1761.3 728.8 L1762.7 739.5 L1764.1 739.1 L1765.4 748.7 L1766.7 739.3 L1768.1 736.9 L1769.4 727.2 L1770.7 743.1 L1772.1 754.4 L1773.4 770.2 L1774.8 757.3 L1776.1 752.7 L1777.5 736.4 L1778.8 729.0 L1780.2 716.4 L1781.5 727.6 L1782.9 729.2 L1784.2 744.2 L1785.6 749.3 L1786.9 759.4 L1788.2 751.6 L1789.6 749.3 L1790.9 740.6 L1792.2 747.9 L1793.6 749.0 L1794.9 759.9 L1796.3 762.3 L1797.6 770.2 L1798.9 767.0 L1800.3 769.2 L1801.6 763.7 L1803.0 765.6 L1804.3 762.1 L1805.7 772.1 L1807.0 776.1 L1808.4 786.3 L1809.7 779.8 L1811.1 782.5 L1812.4 774.9 L1813.7 775.2 L1815.1 766.6 L1816.4 767.5 L1817.8 772.4 L1819.1 789.8 L1820.5 794.4 L1821.8 795.3 L1823.2 786.3 L1824.5 788.7 L1825.9 781.7 L1827.2 781.0 L1828.5 784.3 L1829.9 795.7 L1831.2 794.7 L1832.6 805.0 L1833.9 799.5 L1835.3 801.4 L1836.6 790.6 L1837.9 794.2 L1839.3 783.9 L1840.6 783.6 L1841.9 788.4 L1843.3 797.9 L1844.7 799.4 L1846.0 811.9 L1847.3 810.6 L1848.7 821.2 L1850.0 818.7 L1851.4 825.9 L1852.7 823.4 L1854.0 830.4 L1855.4 826.6 L1856.7 829.3 L1858.0 821.5 L1859.4 823.8 L1860.8 815.3 L1862.1 819.0 L1863.5 809.8 L1864.8 807.8 L1866.2 813.5 L1867.5 825.9 L1868.8 826.4 L1870.2 837.4 L1871.5 836.0 L1872.9 840.2 L1874.2 833.5 L1875.5 841.2 L1876.9 834.8 L1878.2 837.4 L1879.6 832.3 L1880.9 833.2 L1882.3 823.1 L1883.6 825.0 L1885.0 818.6 L1886.3 828.8 L1887.7 829.4 L1889.0 842.4 L1890.4 843.4 L1891.7 853.5 L1893.0 851.3 L1894.4 859.1 L1895.7 852.4 L1897.0 858.5 L1898.4 854.2 L1899.7 858.9 L1901.0 860.4 L1902.4 868.7 L1903.8 867.6 L1905.1 875.6 L1906.5 874.2 L1907.8 880.4 L1909.2 874.5 L1910.5 875.8 L1911.8 868.7 L1913.2 870.7 L1914.6 862.2 L1915.9 861.6 L1917.2 861.7 L1918.6 869.4 L1920.0 867.9 L1921.3 878.3 L1922.7 873.6 L1924.0 880.4 L1925.3 875.5 L1926.7 880.7 L1928.0 872.5 L1929.3 875.1 L1930.7 868.1 L1932.0 869.6 L1933.3 868.2 L1934.7 873.2 L1936.0 867.9 L1937.3 875.3 L1938.7 871.1 L1940.0 875.7 L1941.4 870.7 L1942.7 875.0 L1943.9 874.3 L1945.2 884.6 L1946.4 879.4 L1947.6 888.0 L1948.8 884.9 L1950.1 895.3 L1951.3 889.7 L1952.5 900.8 L1953.7 897.4 L1955.0 904.0 L1956.2 904.6 L1957.5 903.8 L1958.9 895.3 L1960.2 900.0 L1961.5 890.7 L1962.9 893.1 L1964.2 888.4 L1965.5 893.7 L1966.9 890.3 L1968.2 898.0 L1969.6 895.0 L1971.0 905.5 L1972.3 900.4 L1973.7 911.6 L1975.0 910.0 L1976.3 907.6 L1977.7 896.9 L1979.1 896.3 L1980.4 888.4 L1981.7 893.6 L1983.1 889.8 L1984.4 897.7 L1985.8 895.5 L1987.1 903.1 L1988.4 898.8 L1989.8 906.2 L1991.1 907.2 L1992.4 909.2 L1993.8 899.3 L1995.2 903.4 L1996.5 895.2 L1997.8 900.0 L1999.2 893.8 L2000.5 896.8 L2001.9 892.1 L2003.2 896.4 L2004.6 892.7 L2006.0 897.0 L2007.3 893.7 L2008.7 899.5 L2010.0 896.5 L2011.3 902.1 L2012.7 898.5 L2014.0 908.7 L2015.3 905.1 L2016.7 914.2 L2018.0 915.3 L2019.3 918.7 L2020.7 909.2 L2022.0 916.5 L2023.4 907.4 L2024.8 913.2 L2026.1 907.4 L2027.5 912.2 L2028.8 907.2 L2030.2 912.0 L2031.5 905.3 L2032.8 912.4 L2034.2 905.7 L2035.6 913.3 L2036.9 910.0 L2038.3 916.6 L2039.7 911.4 L2041.2 919.0 L2042.6 916.9 L2044.0 922.0 L2045.3 919.7 L2046.5 925.7 L2047.8 920.8 L2049.0 927.6 L2050.3 926.0 L2051.5 926.3 L2052.8 920.9 L2054.0 922.0 L2055.4 921.0 L2056.9 930.7 L2058.3 930.0 L2059.5 932.0" fill="none" stroke="#1f77b4" stroke-width="5.8" stroke-linejoin="round" stroke-linecap="square"/>
<text x="156" y="59.3" style="font-family:'DejaVu Sans',sans-serif;font-weight:bold;font-size:37.5px;fill:#000">(a)</text>
<text x="156" y="540.3" style="font-family:'DejaVu Sans',sans-serif;font-weight:bold;font-size:37.5px;fill:#000">(b)</text>
<text x="1198.5" y="59.3" style="font-family:'DejaVu Sans',sans-serif;font-weight:bold;font-size:37.5px;fill:#000">(c)</text>
<text x="1198.5" y="540.3" style="font-family:'DejaVu Sans',sans-serif;font-weight:bold;font-size:37.5px;fill:#000">(d)</text>
<rect x="150.7" y="16.2" width="156.8" height="923.8" fill="#606060" fill-opacity="0.28"/>
<rect x="1189.5" y="16.2" width="154.7" height="923.8" fill="#606060" fill-opacity="0.28"/>
<rect x="147.0" y="15.5" width="870.5" height="439.0" fill="none" stroke="#000" stroke-width="2.5"/>
<line x1="136.5" y1="366.7" x2="147.0" y2="366.7" stroke="#000" stroke-width="2.5"/>
<text x="127.0" y="380.0" font-family="DejaVu Sans, sans-serif" font-weight="bold" font-size="36" text-anchor="end">0.1</text>
<line x1="136.5" y1="191.1" x2="147.0" y2="191.1" stroke="#000" stroke-width="2.5"/>
<text x="127.0" y="204.4" font-family="DejaVu Sans, sans-serif" font-weight="bold" font-size="36" text-anchor="end">0.2</text>
<line x1="136.5" y1="15.5" x2="147.0" y2="15.5" stroke="#000" stroke-width="2.5"/>
<text x="127.0" y="28.8" font-family="DejaVu Sans, sans-serif" font-weight="bold" font-size="36" text-anchor="end">0.3</text>
<line x1="147.0" y1="454.5" x2="147.0" y2="465.0" stroke="#000" stroke-width="2.5"/>
<line x1="364.6" y1="454.5" x2="364.6" y2="465.0" stroke="#000" stroke-width="2.5"/>
<line x1="582.2" y1="454.5" x2="582.2" y2="465.0" stroke="#000" stroke-width="2.5"/>
<line x1="799.9" y1="454.5" x2="799.9" y2="465.0" stroke="#000" stroke-width="2.5"/>
<line x1="1017.5" y1="454.5" x2="1017.5" y2="465.0" stroke="#000" stroke-width="2.5"/>
<rect x="147.0" y="496.5" width="870.5" height="439.0" fill="none" stroke="#000" stroke-width="2.5"/>
<line x1="136.5" y1="847.7" x2="147.0" y2="847.7" stroke="#000" stroke-width="2.5"/>
<text x="127.0" y="861.0" font-family="DejaVu Sans, sans-serif" font-weight="bold" font-size="36" text-anchor="end">3</text>
<line x1="136.5" y1="759.9" x2="147.0" y2="759.9" stroke="#000" stroke-width="2.5"/>
<text x="127.0" y="773.2" font-family="DejaVu Sans, sans-serif" font-weight="bold" font-size="36" text-anchor="end">5</text>
<line x1="136.5" y1="672.1" x2="147.0" y2="672.1" stroke="#000" stroke-width="2.5"/>
<text x="127.0" y="685.4" font-family="DejaVu Sans, sans-serif" font-weight="bold" font-size="36" text-anchor="end">7</text>
<line x1="136.5" y1="584.3" x2="147.0" y2="584.3" stroke="#000" stroke-width="2.5"/>
<text x="127.0" y="597.6" font-family="DejaVu Sans, sans-serif" font-weight="bold" font-size="36" text-anchor="end">9</text>
<line x1="136.5" y1="496.5" x2="147.0" y2="496.5" stroke="#000" stroke-width="2.5"/>
<text x="127.0" y="509.8" font-family="DejaVu Sans, sans-serif" font-weight="bold" font-size="36" text-anchor="end">11</text>
<line x1="147.0" y1="935.5" x2="147.0" y2="946.0" stroke="#000" stroke-width="2.5"/>
<text x="147.0" y="983.2" font-family="DejaVu Sans, sans-serif" font-weight="bold" font-size="36" text-anchor="middle">0</text>
<line x1="364.6" y1="935.5" x2="364.6" y2="946.0" stroke="#000" stroke-width="2.5"/>
<text x="364.6" y="983.2" font-family="DejaVu Sans, sans-serif" font-weight="bold" font-size="36" text-anchor="middle">200</text>
<line x1="582.2" y1="935.5" x2="582.2" y2="946.0" stroke="#000" stroke-width="2.5"/>
<text x="582.2" y="983.2" font-family="DejaVu Sans, sans-serif" font-weight="bold" font-size="36" text-anchor="middle">400</text>
<line x1="799.9" y1="935.5" x2="799.9" y2="946.0" stroke="#000" stroke-width="2.5"/>
<text x="799.9" y="983.2" font-family="DejaVu Sans, sans-serif" font-weight="bold" font-size="36" text-anchor="middle">600</text>
<line x1="1017.5" y1="935.5" x2="1017.5" y2="946.0" stroke="#000" stroke-width="2.5"/>
<text x="1017.5" y="983.2" font-family="DejaVu Sans, sans-serif" font-weight="bold" font-size="36" text-anchor="middle">800</text>
<rect x="1189.0" y="15.5" width="870.5" height="439.0" fill="none" stroke="#000" stroke-width="2.5"/>
<line x1="1178.5" y1="454.5" x2="1189.0" y2="454.5" stroke="#000" stroke-width="2.5"/>
<text x="1169.0" y="467.8" font-family="DejaVu Sans, sans-serif" font-weight="bold" font-size="36" text-anchor="end">0</text>
<line x1="1178.5" y1="366.7" x2="1189.0" y2="366.7" stroke="#000" stroke-width="2.5"/>
<text x="1169.0" y="380.0" font-family="DejaVu Sans, sans-serif" font-weight="bold" font-size="36" text-anchor="end">1</text>
<line x1="1178.5" y1="278.9" x2="1189.0" y2="278.9" stroke="#000" stroke-width="2.5"/>
<text x="1169.0" y="292.2" font-family="DejaVu Sans, sans-serif" font-weight="bold" font-size="36" text-anchor="end">2</text>
<line x1="1178.5" y1="191.1" x2="1189.0" y2="191.1" stroke="#000" stroke-width="2.5"/>
<text x="1169.0" y="204.4" font-family="DejaVu Sans, sans-serif" font-weight="bold" font-size="36" text-anchor="end">3</text>
<line x1="1178.5" y1="103.3" x2="1189.0" y2="103.3" stroke="#000" stroke-width="2.5"/>
<text x="1169.0" y="116.6" font-family="DejaVu Sans, sans-serif" font-weight="bold" font-size="36" text-anchor="end">4</text>
<line x1="1178.5" y1="15.5" x2="1189.0" y2="15.5" stroke="#000" stroke-width="2.5"/>
<text x="1169.0" y="28.8" font-family="DejaVu Sans, sans-serif" font-weight="bold" font-size="36" text-anchor="end">5</text>
<line x1="1189.0" y1="454.5" x2="1189.0" y2="465.0" stroke="#000" stroke-width="2.5"/>
<line x1="1406.6" y1="454.5" x2="1406.6" y2="465.0" stroke="#000" stroke-width="2.5"/>
<line x1="1624.2" y1="454.5" x2="1624.2" y2="465.0" stroke="#000" stroke-width="2.5"/>
<line x1="1841.9" y1="454.5" x2="1841.9" y2="465.0" stroke="#000" stroke-width="2.5"/>
<line x1="2059.5" y1="454.5" x2="2059.5" y2="465.0" stroke="#000" stroke-width="2.5"/>
<rect x="1189.0" y="496.5" width="870.5" height="439.0" fill="none" stroke="#000" stroke-width="2.5"/>
<line x1="1178.5" y1="935.5" x2="1189.0" y2="935.5" stroke="#000" stroke-width="2.5"/>
<text x="1169.0" y="948.8" font-family="DejaVu Sans, sans-serif" font-weight="bold" font-size="36" text-anchor="end">0.0</text>
<line x1="1178.5" y1="862.3" x2="1189.0" y2="862.3" stroke="#000" stroke-width="2.5"/>
<text x="1169.0" y="875.6" font-family="DejaVu Sans, sans-serif" font-weight="bold" font-size="36" text-anchor="end">0.1</text>
<line x1="1178.5" y1="789.2" x2="1189.0" y2="789.2" stroke="#000" stroke-width="2.5"/>
<text x="1169.0" y="802.5" font-family="DejaVu Sans, sans-serif" font-weight="bold" font-size="36" text-anchor="end">0.2</text>
<line x1="1178.5" y1="716.0" x2="1189.0" y2="716.0" stroke="#000" stroke-width="2.5"/>
<text x="1169.0" y="729.3" font-family="DejaVu Sans, sans-serif" font-weight="bold" font-size="36" text-anchor="end">0.3</text>
<line x1="1178.5" y1="642.8" x2="1189.0" y2="642.8" stroke="#000" stroke-width="2.5"/>
<text x="1169.0" y="656.1" font-family="DejaVu Sans, sans-serif" font-weight="bold" font-size="36" text-anchor="end">0.4</text>
<line x1="1178.5" y1="569.7" x2="1189.0" y2="569.7" stroke="#000" stroke-width="2.5"/>
<text x="1169.0" y="583.0" font-family="DejaVu Sans, sans-serif" font-weight="bold" font-size="36" text-anchor="end">0.5</text>
<line x1="1178.5" y1="496.5" x2="1189.0" y2="496.5" stroke="#000" stroke-width="2.5"/>
<text x="1169.0" y="509.8" font-family="DejaVu Sans, sans-serif" font-weight="bold" font-size="36" text-anchor="end">0.6</text>
<line x1="1189.0" y1="935.5" x2="1189.0" y2="946.0" stroke="#000" stroke-width="2.5"/>
<text x="1189.0" y="983.2" font-family="DejaVu Sans, sans-serif" font-weight="bold" font-size="36" text-anchor="middle">0</text>
<line x1="1406.6" y1="935.5" x2="1406.6" y2="946.0" stroke="#000" stroke-width="2.5"/>
<text x="1406.6" y="983.2" font-family="DejaVu Sans, sans-serif" font-weight="bold" font-size="36" text-anchor="middle">200</text>
<line x1="1624.2" y1="935.5" x2="1624.2" y2="946.0" stroke="#000" stroke-width="2.5"/>
<text x="1624.2" y="983.2" font-family="DejaVu Sans, sans-serif" font-weight="bold" font-size="36" text-anchor="middle">400</text>
<line x1="1841.9" y1="935.5" x2="1841.9" y2="946.0" stroke="#000" stroke-width="2.5"/>
<text x="1841.9" y="983.2" font-family="DejaVu Sans, sans-serif" font-weight="bold" font-size="36" text-anchor="middle">600</text>
<line x1="2059.5" y1="935.5" x2="2059.5" y2="946.0" stroke="#000" stroke-width="2.5"/>
<text x="2059.5" y="983.2" font-family="DejaVu Sans, sans-serif" font-weight="bold" font-size="36" text-anchor="middle">800</text>
<line x1="740" y1="66.8" x2="810.7" y2="66.8" stroke="#d62728" stroke-width="5.6" stroke-linecap="square"/>
<line x1="740" y1="126.4" x2="810.7" y2="126.4" stroke="#1f77b4" stroke-width="5.6" stroke-linecap="square"/>
<g transform="translate(839.3,79.2)"><text x="0.00" y="-0.41" style="font-family:'DejaVu Sans',sans-serif;font-weight:bold;font-style:oblique;font-size:34.50px">h</text><text x="24.56" y="-0.41" style="font-family:'DejaVu Sans',sans-serif;font-weight:bold;font-style:oblique;font-size:34.50px">i</text><text x="36.39" y="-0.41" style="font-family:'DejaVu Sans',sans-serif;font-weight:bold;font-style:oblique;font-size:34.50px">g</text><text x="61.08" y="-0.41" style="font-family:'DejaVu Sans',sans-serif;font-weight:bold;font-style:oblique;font-size:34.50px">h</text><text x="97.63" y="-0.41" style="font-family:'DejaVu Sans',sans-serif;font-weight:bold;font-style:oblique;font-size:34.50px">ν</text><text x="121.13" y="9.16" style="font-family:'DejaVu Sans',sans-serif;font-weight:bold;font-size:24.15px">e</text><text x="128.02" y="-14.61" style="font-family:'DejaVu Sans',sans-serif;font-weight:bold;font-size:21.73px">*</text></g>
<g transform="translate(839.3,138.4)"><text x="0.00" y="-0.41" style="font-family:'DejaVu Sans',sans-serif;font-weight:bold;font-style:oblique;font-size:34.50px">l</text><text x="11.83" y="-0.41" style="font-family:'DejaVu Sans',sans-serif;font-weight:bold;font-style:oblique;font-size:34.50px">o</text><text x="35.53" y="-0.41" style="font-family:'DejaVu Sans',sans-serif;font-weight:bold;font-style:oblique;font-size:34.50px">w</text><text x="79.38" y="-0.41" style="font-family:'DejaVu Sans',sans-serif;font-weight:bold;font-style:oblique;font-size:34.50px">ν</text><text x="102.88" y="9.16" style="font-family:'DejaVu Sans',sans-serif;font-weight:bold;font-size:24.15px">e</text><text x="109.78" y="-14.61" style="font-family:'DejaVu Sans',sans-serif;font-weight:bold;font-size:21.73px">*</text></g>
<line x1="740" y1="180.6" x2="810.7" y2="180.6" stroke="#000" stroke-width="5.6" stroke-dasharray="21 10"/>
<text x="839.3" y="193.0" style="font-family:'DejaVu Sans',sans-serif;font-weight:bold;font-size:34.5px">Noise</text>
<line x1="740" y1="547.8" x2="810.7" y2="547.8" stroke="#d62728" stroke-width="5.6" stroke-linecap="square"/>
<line x1="740" y1="607.4" x2="810.7" y2="607.4" stroke="#1f77b4" stroke-width="5.6" stroke-linecap="square"/>
<g transform="translate(839.3,560.2)"><text x="0.00" y="-0.41" style="font-family:'DejaVu Sans',sans-serif;font-weight:bold;font-style:oblique;font-size:34.50px">h</text><text x="24.56" y="-0.41" style="font-family:'DejaVu Sans',sans-serif;font-weight:bold;font-style:oblique;font-size:34.50px">i</text><text x="36.39" y="-0.41" style="font-family:'DejaVu Sans',sans-serif;font-weight:bold;font-style:oblique;font-size:34.50px">g</text><text x="61.08" y="-0.41" style="font-family:'DejaVu Sans',sans-serif;font-weight:bold;font-style:oblique;font-size:34.50px">h</text><text x="97.63" y="-0.41" style="font-family:'DejaVu Sans',sans-serif;font-weight:bold;font-style:oblique;font-size:34.50px">ν</text><text x="121.13" y="9.16" style="font-family:'DejaVu Sans',sans-serif;font-weight:bold;font-size:24.15px">e</text><text x="128.02" y="-14.61" style="font-family:'DejaVu Sans',sans-serif;font-weight:bold;font-size:21.73px">*</text></g>
<g transform="translate(839.3,619.4)"><text x="0.00" y="-0.41" style="font-family:'DejaVu Sans',sans-serif;font-weight:bold;font-style:oblique;font-size:34.50px">l</text><text x="11.83" y="-0.41" style="font-family:'DejaVu Sans',sans-serif;font-weight:bold;font-style:oblique;font-size:34.50px">o</text><text x="35.53" y="-0.41" style="font-family:'DejaVu Sans',sans-serif;font-weight:bold;font-style:oblique;font-size:34.50px">w</text><text x="79.38" y="-0.41" style="font-family:'DejaVu Sans',sans-serif;font-weight:bold;font-style:oblique;font-size:34.50px">ν</text><text x="102.88" y="9.16" style="font-family:'DejaVu Sans',sans-serif;font-weight:bold;font-size:24.15px">e</text><text x="109.78" y="-14.61" style="font-family:'DejaVu Sans',sans-serif;font-weight:bold;font-size:21.73px">*</text></g>
<line x1="740" y1="661.6" x2="810.7" y2="661.6" stroke="#000" stroke-width="5.6" stroke-dasharray="21 10"/>
<text x="839.3" y="674.0" style="font-family:'DejaVu Sans',sans-serif;font-weight:bold;font-size:34.5px">Noise</text>
<line x1="1782.5" y1="66.8" x2="1853.2" y2="66.8" stroke="#d62728" stroke-width="5.6" stroke-linecap="square"/>
<line x1="1782.5" y1="126.4" x2="1853.2" y2="126.4" stroke="#1f77b4" stroke-width="5.6" stroke-linecap="square"/>
<g transform="translate(1881.8,79.2)"><text x="0.00" y="-0.41" style="font-family:'DejaVu Sans',sans-serif;font-weight:bold;font-style:oblique;font-size:34.50px">h</text><text x="24.56" y="-0.41" style="font-family:'DejaVu Sans',sans-serif;font-weight:bold;font-style:oblique;font-size:34.50px">i</text><text x="36.39" y="-0.41" style="font-family:'DejaVu Sans',sans-serif;font-weight:bold;font-style:oblique;font-size:34.50px">g</text><text x="61.08" y="-0.41" style="font-family:'DejaVu Sans',sans-serif;font-weight:bold;font-style:oblique;font-size:34.50px">h</text><text x="97.63" y="-0.41" style="font-family:'DejaVu Sans',sans-serif;font-weight:bold;font-style:oblique;font-size:34.50px">ν</text><text x="121.13" y="9.16" style="font-family:'DejaVu Sans',sans-serif;font-weight:bold;font-size:24.15px">e</text><text x="128.02" y="-14.61" style="font-family:'DejaVu Sans',sans-serif;font-weight:bold;font-size:21.73px">*</text></g>
<g transform="translate(1881.8,138.4)"><text x="0.00" y="-0.41" style="font-family:'DejaVu Sans',sans-serif;font-weight:bold;font-style:oblique;font-size:34.50px">l</text><text x="11.83" y="-0.41" style="font-family:'DejaVu Sans',sans-serif;font-weight:bold;font-style:oblique;font-size:34.50px">o</text><text x="35.53" y="-0.41" style="font-family:'DejaVu Sans',sans-serif;font-weight:bold;font-style:oblique;font-size:34.50px">w</text><text x="79.38" y="-0.41" style="font-family:'DejaVu Sans',sans-serif;font-weight:bold;font-style:oblique;font-size:34.50px">ν</text><text x="102.88" y="9.16" style="font-family:'DejaVu Sans',sans-serif;font-weight:bold;font-size:24.15px">e</text><text x="109.78" y="-14.61" style="font-family:'DejaVu Sans',sans-serif;font-weight:bold;font-size:21.73px">*</text></g>
<line x1="1782.5" y1="547.8" x2="1853.2" y2="547.8" stroke="#d62728" stroke-width="5.6" stroke-linecap="square"/>
<line x1="1782.5" y1="607.4" x2="1853.2" y2="607.4" stroke="#1f77b4" stroke-width="5.6" stroke-linecap="square"/>
<g transform="translate(1881.8,560.2)"><text x="0.00" y="-0.41" style="font-family:'DejaVu Sans',sans-serif;font-weight:bold;font-style:oblique;font-size:34.50px">h</text><text x="24.56" y="-0.41" style="font-family:'DejaVu Sans',sans-serif;font-weight:bold;font-style:oblique;font-size:34.50px">i</text><text x="36.39" y="-0.41" style="font-family:'DejaVu Sans',sans-serif;font-weight:bold;font-style:oblique;font-size:34.50px">g</text><text x="61.08" y="-0.41" style="font-family:'DejaVu Sans',sans-serif;font-weight:bold;font-style:oblique;font-size:34.50px">h</text><text x="97.63" y="-0.41" style="font-family:'DejaVu Sans',sans-serif;font-weight:bold;font-style:oblique;font-size:34.50px">ν</text><text x="121.13" y="9.16" style="font-family:'DejaVu Sans',sans-serif;font-weight:bold;font-size:24.15px">e</text><text x="128.02" y="-14.61" style="font-family:'DejaVu Sans',sans-serif;font-weight:bold;font-size:21.73px">*</text></g>
<g transform="translate(1881.8,619.4)"><text x="0.00" y="-0.41" style="font-family:'DejaVu Sans',sans-serif;font-weight:bold;font-style:oblique;font-size:34.50px">l</text><text x="11.83" y="-0.41" style="font-family:'DejaVu Sans',sans-serif;font-weight:bold;font-style:oblique;font-size:34.50px">o</text><text x="35.53" y="-0.41" style="font-family:'DejaVu Sans',sans-serif;font-weight:bold;font-style:oblique;font-size:34.50px">w</text><text x="79.38" y="-0.41" style="font-family:'DejaVu Sans',sans-serif;font-weight:bold;font-style:oblique;font-size:34.50px">ν</text><text x="102.88" y="9.16" style="font-family:'DejaVu Sans',sans-serif;font-weight:bold;font-size:24.15px">e</text><text x="109.78" y="-14.61" style="font-family:'DejaVu Sans',sans-serif;font-weight:bold;font-size:21.73px">*</text></g>
<line x1="1782.5" y1="661.6" x2="1853.2" y2="661.6" stroke="#000" stroke-width="5.6" stroke-dasharray="21 10"/>
<text x="1881.8" y="674.0" style="font-family:'DejaVu Sans',sans-serif;font-weight:bold;font-size:34.5px">Noise</text>
<text x="154" y="455" style="font-family:'Liberation Sans',sans-serif;font-weight:bold;font-size:35px">183225</text>
<g transform="translate(510.5,1031.5)"><text x="0.00" y="-0.12" style="font-family:'DejaVu Sans',sans-serif;font-weight:bold;font-style:oblique;font-size:37.70px">f</text><text x="46.79" y="-0.12" style="font-family:'DejaVu Sans',sans-serif;font-weight:bold;font-style:oblique;font-size:37.70px">k</text><text x="71.89" y="-0.12" style="font-family:'DejaVu Sans',sans-serif;font-weight:bold;font-style:oblique;font-size:37.70px">H</text><text x="103.49" y="-0.12" style="font-family:'DejaVu Sans',sans-serif;font-weight:bold;font-style:oblique;font-size:37.70px">z</text><text x="29.54" y="-0.12" style="font-family:'DejaVu Sans',sans-serif;font-weight:bold;font-size:37.70px">[</text><text x="125.46" y="-0.12" style="font-family:'DejaVu Sans',sans-serif;font-weight:bold;font-size:37.70px">]</text></g>
<g transform="translate(1552.5,1031.5)"><text x="0.00" y="-0.12" style="font-family:'DejaVu Sans',sans-serif;font-weight:bold;font-style:oblique;font-size:37.70px">f</text><text x="46.79" y="-0.12" style="font-family:'DejaVu Sans',sans-serif;font-weight:bold;font-style:oblique;font-size:37.70px">k</text><text x="71.89" y="-0.12" style="font-family:'DejaVu Sans',sans-serif;font-weight:bold;font-style:oblique;font-size:37.70px">H</text><text x="103.49" y="-0.12" style="font-family:'DejaVu Sans',sans-serif;font-weight:bold;font-style:oblique;font-size:37.70px">z</text><text x="29.54" y="-0.12" style="font-family:'DejaVu Sans',sans-serif;font-weight:bold;font-size:37.70px">[</text><text x="125.46" y="-0.12" style="font-family:'DejaVu Sans',sans-serif;font-weight:bold;font-size:37.70px">]</text></g>
<g transform="translate(45,422.4) rotate(-90)"><text x="0.00" y="-0.26" style="font-family:'DejaVu Sans',sans-serif;font-weight:bold;font-style:oblique;font-size:36.60px">δ</text><text x="25.16" y="-0.26" style="font-family:'DejaVu Sans',sans-serif;font-weight:bold;font-style:oblique;font-size:36.60px">B</text><text x="103.64" y="-0.26" style="font-family:'DejaVu Sans',sans-serif;font-weight:bold;font-style:oblique;font-size:36.60px">G</text><text x="133.71" y="-0.26" style="font-family:'DejaVu Sans',sans-serif;font-weight:bold;font-style:oblique;font-size:36.60px">a</text><text x="158.42" y="-0.26" style="font-family:'DejaVu Sans',sans-serif;font-weight:bold;font-style:oblique;font-size:36.60px">u</text><text x="184.49" y="-0.26" style="font-family:'DejaVu Sans',sans-serif;font-weight:bold;font-style:oblique;font-size:36.60px">s</text><text x="206.29" y="-0.26" style="font-family:'DejaVu Sans',sans-serif;font-weight:bold;font-style:oblique;font-size:36.60px">s</text><text x="279.00" y="-0.60" style="font-family:'DejaVu Sans',sans-serif;font-weight:bold;font-style:oblique;font-size:36.60px">k</text><text x="303.36" y="-0.60" style="font-family:'DejaVu Sans',sans-serif;font-weight:bold;font-style:oblique;font-size:36.60px">H</text><text x="334.01" y="-0.60" style="font-family:'DejaVu Sans',sans-serif;font-weight:bold;font-style:oblique;font-size:36.60px">z</text><text x="52.00" y="-7.08" style="font-family:'DejaVu Sans',sans-serif;font-weight:bold;font-size:36.60px">̄</text><text x="86.91" y="-0.26" style="font-family:'DejaVu Sans',sans-serif;font-weight:bold;font-size:36.60px">[</text><text x="228.09" y="-0.26" style="font-family:'DejaVu Sans',sans-serif;font-weight:bold;font-size:36.60px">/</text><text x="359.90" y="-0.26" style="font-family:'DejaVu Sans',sans-serif;font-weight:bold;font-size:36.60px">]</text><text x="53.43" y="5.81" style="font-family:'DejaVu Sans',sans-serif;font-weight:bold;font-style:oblique;font-size:25.62px">R</text><text transform="translate(241.47,1.5) scale(1.202,1)" x="0" y="0" style="font-family:'Liberation Sans',sans-serif;font-size:50.03px">√</text><rect x="274.42" y="-38.42" width="85.48" height="2.29"/></g>
<g transform="translate(54.5,962) rotate(-90)"><text x="-1.00" y="-1.00" style="font-family:'DejaVu Math TeX Gyre',serif;font-size:46.4px">∫</text><text x="161.81" y="-1.00" style="font-family:'DejaVu Sans',sans-serif;font-weight:bold;font-size:37.30px">[</text><text x="178.83" y="-1.00" style="font-family:'DejaVu Sans',sans-serif;font-weight:bold;font-size:37.30px">1</text><text x="204.75" y="-1.00" style="font-family:'DejaVu Sans',sans-serif;font-weight:bold;font-size:37.30px">0</text><text x="268.32" y="-1.00" style="font-family:'DejaVu Sans',sans-serif;font-weight:bold;font-size:37.30px">/</text><text x="341.62" y="-1.00" style="font-family:'DejaVu Sans',sans-serif;font-weight:bold;font-size:37.30px">/</text><text x="475.30" y="-1.00" style="font-family:'DejaVu Sans',sans-serif;font-weight:bold;font-size:37.30px">]</text><text x="22.72" y="-1.00" style="font-family:'DejaVu Sans',sans-serif;font-weight:bold;font-style:oblique;font-size:37.30px">δ</text><text x="48.31" y="-1.00" style="font-family:'DejaVu Sans',sans-serif;font-weight:bold;font-style:oblique;font-size:37.30px">n</text><text x="93.52" y="-1.00" style="font-family:'DejaVu Sans',sans-serif;font-weight:bold;font-style:oblique;font-size:37.30px">d</text><text x="120.19" y="-1.00" style="font-family:'DejaVu Sans',sans-serif;font-weight:bold;font-style:oblique;font-size:37.30px">R</text><text x="281.93" y="-1.00" style="font-family:'DejaVu Sans',sans-serif;font-weight:bold;font-style:oblique;font-size:37.30px">m</text><text x="393.01" y="-0.56" style="font-family:'DejaVu Sans',sans-serif;font-weight:bold;font-style:oblique;font-size:37.30px">k</text><text x="417.78" y="-0.56" style="font-family:'DejaVu Sans',sans-serif;font-weight:bold;font-style:oblique;font-size:37.30px">H</text><text x="448.96" y="-0.56" style="font-family:'DejaVu Sans',sans-serif;font-weight:bold;font-style:oblique;font-size:37.30px">z</text><text x="74.83" y="5.07" style="font-family:'DejaVu Sans',sans-serif;font-weight:bold;font-style:oblique;font-size:26.11px">e</text><text x="231.02" y="-15.16" style="font-family:'DejaVu Sans',sans-serif;font-weight:bold;font-size:26.11px">1</text><text x="249.17" y="-15.16" style="font-family:'DejaVu Sans',sans-serif;font-weight:bold;font-size:26.11px">4</text><text x="322.46" y="-15.16" style="font-family:'DejaVu Sans',sans-serif;font-weight:bold;font-size:26.11px">2</text><text transform="translate(355.22,1.5) scale(1.181,1)" x="0" y="0" style="font-family:'Liberation Sans',sans-serif;font-size:51.17px">√</text><rect x="388.35" y="-39.34" width="86.95" height="2.33"/></g>
<g transform="translate(1126,337.7) rotate(-90)"><text x="0.00" y="-0.59" style="font-family:'DejaVu Sans',sans-serif;font-weight:bold;font-style:oblique;font-size:37.00px">δ</text><text x="25.42" y="-0.59" style="font-family:'DejaVu Sans',sans-serif;font-weight:bold;font-style:oblique;font-size:37.00px">n</text><text x="87.25" y="-0.59" style="font-family:'DejaVu Sans',sans-serif;font-weight:bold;font-style:oblique;font-size:37.00px">a</text><text x="140.41" y="-0.59" style="font-family:'DejaVu Sans',sans-serif;font-weight:bold;font-style:oblique;font-size:37.00px">u</text><text x="51.76" y="5.48" style="font-family:'DejaVu Sans',sans-serif;font-weight:bold;font-style:oblique;font-size:25.90px">e</text><text x="70.34" y="-0.59" style="font-family:'DejaVu Sans',sans-serif;font-weight:bold;font-size:37.00px">[</text><text x="112.22" y="-0.59" style="font-family:'DejaVu Sans',sans-serif;font-weight:bold;font-size:37.00px">.</text><text x="166.75" y="-0.59" style="font-family:'DejaVu Sans',sans-serif;font-weight:bold;font-size:37.00px">.</text><text x="188.52" y="-0.59" style="font-family:'DejaVu Sans',sans-serif;font-weight:bold;font-size:37.00px">]</text></g>
<g transform="translate(1087.5,829) rotate(-90)"><text x="0.00" y="-0.12" style="font-family:'DejaVu Sans',sans-serif;font-weight:bold;font-style:oblique;font-size:38.00px">C</text><text x="27.89" y="-0.12" style="font-family:'DejaVu Sans',sans-serif;font-weight:bold;font-style:oblique;font-size:38.00px">o</text><text x="53.99" y="-0.12" style="font-family:'DejaVu Sans',sans-serif;font-weight:bold;font-style:oblique;font-size:38.00px">h</text><text x="81.05" y="-0.12" style="font-family:'DejaVu Sans',sans-serif;font-weight:bold;font-style:oblique;font-size:38.00px">e</text><text x="106.82" y="-0.12" style="font-family:'DejaVu Sans',sans-serif;font-weight:bold;font-style:oblique;font-size:38.00px">r</text><text x="125.56" y="-0.12" style="font-family:'DejaVu Sans',sans-serif;font-weight:bold;font-style:oblique;font-size:38.00px">e</text><text x="151.33" y="-0.12" style="font-family:'DejaVu Sans',sans-serif;font-weight:bold;font-style:oblique;font-size:38.00px">n</text><text x="178.38" y="-0.12" style="font-family:'DejaVu Sans',sans-serif;font-weight:bold;font-style:oblique;font-size:38.00px">c</text><text x="200.91" y="-0.12" style="font-family:'DejaVu Sans',sans-serif;font-weight:bold;font-style:oblique;font-size:38.00px">e</text></g>
</svg>
</body></html>
